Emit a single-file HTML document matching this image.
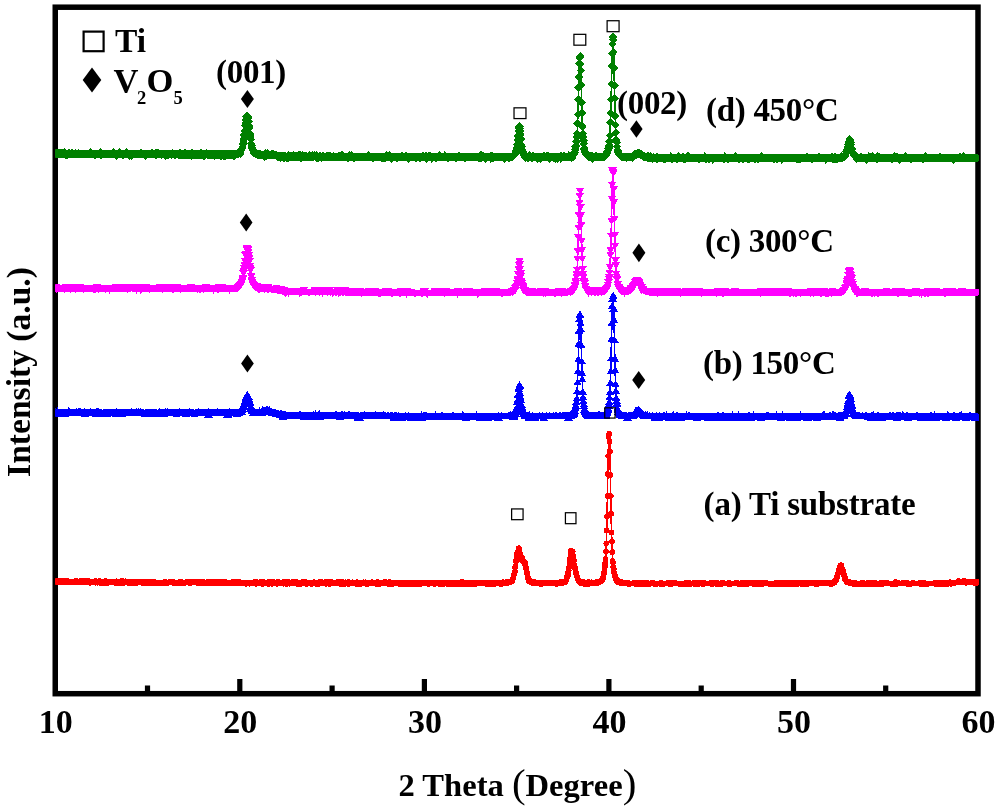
<!DOCTYPE html>
<html><head><meta charset="utf-8"><style>
html,body{margin:0;padding:0;background:#fff;}
svg{display:block;}
text{font-family:"Liberation Serif","Times New Roman",serif;font-weight:bold;fill:#000;}
</style></head><body>
<svg width="1000" height="811" viewBox="0 0 1000 811">

<defs>
<clipPath id="plotclip"><rect x="55.2" y="8" width="923.8" height="684"/></clipPath>
<marker shape-rendering="crispEdges" id="mg" markerUnits="userSpaceOnUse" markerWidth="10" markerHeight="10" refX="5" refY="5" overflow="visible"><path d="M0.8 5L5 0.7L9.2 5L5 9.3Z" fill="#008000"/></marker>
<marker shape-rendering="crispEdges" id="mm" markerUnits="userSpaceOnUse" markerWidth="10" markerHeight="10" refX="5" refY="5" overflow="visible"><path d="M0.75 1.5L9.25 1.5L5 8.5Z" fill="#ff00ff"/></marker>
<marker shape-rendering="crispEdges" id="mb" markerUnits="userSpaceOnUse" markerWidth="10" markerHeight="10" refX="5" refY="5" overflow="visible"><path d="M0.75 8.5L9.25 8.5L5 1.5Z" fill="#0000ff"/></marker>
<marker shape-rendering="crispEdges" id="mr" markerUnits="userSpaceOnUse" markerWidth="10" markerHeight="10" refX="5" refY="5" overflow="visible"><circle cx="5" cy="5" r="2.9" fill="#ff0000"/></marker>
</defs>

<rect width="1000" height="811" fill="#fff"/>
<rect x="55.25" y="7.2" width="922.75" height="686.5" fill="none" stroke="#000" stroke-width="5.5"/>
<g clip-path="url(#plotclip)" shape-rendering="crispEdges">
<path d="M55.2 153.6 55.6 153.6 56.0 153.6 56.4 153.6 56.7 153.6 57.1 153.6 57.5 153.6 57.8 153.6 58.2 153.6 58.6 153.6 58.9 153.6 59.3 153.6 59.7 153.6 60.0 153.6 60.4 153.6 60.8 153.6 61.2 153.6 61.5 153.6 61.9 153.6 62.3 153.6 62.6 153.6 63.0 153.6 63.4 153.7 63.7 153.7 64.1 152.3 64.5 152.3 64.8 153.7 65.2 153.7 65.6 153.7 66.0 153.7 66.3 155.1 66.7 153.7 67.1 153.7 67.4 155.1 67.8 153.7 68.2 153.7 68.5 153.7 68.9 153.7 69.3 153.7 69.6 153.7 70.0 153.7 70.4 153.7 70.8 153.7 71.1 153.7 71.5 153.7 71.9 153.7 72.2 153.7 72.6 153.7 73.0 153.7 73.3 153.7 73.7 153.7 74.1 153.7 74.4 153.7 74.8 153.7 75.2 153.7 75.6 153.7 75.9 153.7 76.3 153.7 76.7 153.7 77.0 153.7 77.4 153.7 77.8 153.7 78.1 153.7 78.5 153.7 78.9 153.7 79.2 153.7 79.6 153.8 80.0 153.8 80.3 153.8 80.7 153.8 81.1 153.8 81.5 153.8 81.8 153.8 82.2 153.8 82.6 153.8 82.9 153.8 83.3 153.8 83.7 153.8 84.0 153.8 84.4 153.8 84.8 153.8 85.1 153.8 85.5 153.8 85.9 153.8 86.3 153.8 86.6 153.8 87.0 153.8 87.4 153.8 87.7 153.8 88.1 153.8 88.5 153.8 88.8 153.8 89.2 153.8 89.6 153.8 89.9 153.8 90.3 152.4 90.7 153.8 91.1 153.8 91.4 153.8 91.8 153.8 92.2 153.8 92.5 153.8 92.9 153.8 93.3 153.8 93.6 153.8 94.0 153.8 94.4 153.8 94.7 153.8 95.1 155.2 95.5 153.8 95.9 153.9 96.2 153.9 96.6 153.9 97.0 153.9 97.3 153.9 97.7 153.9 98.1 153.9 98.4 153.9 98.8 153.9 99.2 153.9 99.5 153.9 99.9 153.9 100.3 152.5 100.6 153.9 101.0 155.3 101.4 153.9 101.8 153.9 102.1 153.9 102.5 153.9 102.9 153.9 103.2 153.9 103.6 153.9 104.0 153.9 104.3 153.9 104.7 153.9 105.1 153.9 105.4 153.9 105.8 153.9 106.2 153.9 106.6 153.9 106.9 153.9 107.3 153.9 107.7 153.9 108.0 153.9 108.4 153.9 108.8 153.9 109.1 153.9 109.5 153.9 109.9 153.9 110.2 153.9 110.6 153.9 111.0 153.9 111.4 153.9 111.7 153.9 112.1 154.0 112.5 154.0 112.8 154.0 113.2 154.0 113.6 152.6 113.9 154.0 114.3 154.0 114.7 154.0 115.0 154.0 115.4 154.0 115.8 154.0 116.2 154.0 116.5 155.4 116.9 154.0 117.3 154.0 117.6 154.0 118.0 154.0 118.4 154.0 118.7 154.0 119.1 154.0 119.5 152.6 119.8 154.0 120.2 154.0 120.6 154.0 120.9 154.0 121.3 154.0 121.7 154.0 122.1 154.0 122.4 154.0 122.8 155.4 123.2 154.0 123.5 154.0 123.9 154.0 124.3 154.0 124.6 154.0 125.0 154.0 125.4 154.0 125.7 154.0 126.1 154.0 126.5 152.6 126.9 154.0 127.2 154.0 127.6 154.0 128.0 154.0 128.3 154.1 128.7 154.1 129.1 155.5 129.4 155.5 129.8 154.1 130.2 154.1 130.5 154.1 130.9 154.1 131.3 154.1 131.7 155.5 132.0 154.1 132.4 154.1 132.8 154.1 133.1 154.1 133.5 154.1 133.9 154.1 134.2 154.1 134.6 154.1 135.0 154.1 135.3 154.1 135.7 154.1 136.1 154.1 136.5 154.1 136.8 154.1 137.2 154.1 137.6 154.1 137.9 154.1 138.3 154.1 138.7 154.1 139.0 154.1 139.4 154.1 139.8 154.1 140.1 154.1 140.5 154.1 140.9 154.1 141.3 152.7 141.6 154.1 142.0 154.1 142.4 154.1 142.7 154.1 143.1 154.1 143.5 154.1 143.8 154.1 144.2 154.1 144.6 154.2 144.9 154.2 145.3 155.6 145.7 154.2 146.0 154.2 146.4 154.2 146.8 154.2 147.2 154.2 147.5 154.2 147.9 154.2 148.3 154.2 148.6 154.2 149.0 154.2 149.4 154.2 149.7 154.2 150.1 154.2 150.5 154.2 150.8 154.2 151.2 154.2 151.6 154.2 152.0 152.8 152.3 154.2 152.7 154.2 153.1 154.2 153.4 154.2 153.8 154.2 154.2 154.2 154.5 154.2 154.9 154.2 155.3 154.2 155.6 152.8 156.0 155.6 156.4 154.2 156.8 154.2 157.1 154.2 157.5 154.2 157.9 152.8 158.2 154.2 158.6 154.2 159.0 154.2 159.3 154.2 159.7 154.2 160.1 154.2 160.4 154.2 160.8 154.2 161.2 154.3 161.6 154.3 161.9 154.3 162.3 154.3 162.7 154.3 163.0 154.3 163.4 154.3 163.8 154.3 164.1 154.3 164.5 154.3 164.9 154.3 165.2 155.7 165.6 154.3 166.0 154.3 166.3 154.3 166.7 154.3 167.1 154.3 167.5 154.3 167.8 154.3 168.2 154.3 168.6 154.3 168.9 154.3 169.3 154.3 169.7 154.3 170.0 154.3 170.4 154.3 170.8 154.3 171.1 154.3 171.5 154.3 171.9 154.3 172.3 154.3 172.6 152.9 173.0 154.3 173.4 154.3 173.7 154.3 174.1 154.3 174.5 154.3 174.8 154.3 175.2 154.3 175.6 154.3 175.9 154.3 176.3 154.3 176.7 154.3 177.1 154.3 177.4 154.3 177.8 154.4 178.2 154.4 178.5 154.4 178.9 154.4 179.3 154.4 179.6 154.4 180.0 153.0 180.4 154.4 180.7 154.4 181.1 154.4 181.5 154.4 181.9 154.4 182.2 154.4 182.6 154.4 183.0 154.4 183.3 154.4 183.7 154.4 184.1 154.4 184.4 154.4 184.8 153.0 185.2 154.4 185.5 154.4 185.9 154.4 186.3 154.4 186.6 154.4 187.0 154.4 187.4 154.4 187.8 154.4 188.1 154.4 188.5 154.4 188.9 154.4 189.2 154.4 189.6 154.4 190.0 154.4 190.3 154.4 190.7 154.4 191.1 154.4 191.4 154.4 191.8 155.8 192.2 153.0 192.6 154.4 192.9 154.4 193.3 154.4 193.7 154.4 194.0 154.4 194.4 154.4 194.8 154.4 195.1 154.5 195.5 154.5 195.9 154.5 196.2 154.5 196.6 154.5 197.0 154.5 197.4 154.5 197.7 154.5 198.1 154.5 198.5 154.5 198.8 154.5 199.2 154.5 199.6 154.5 199.9 154.5 200.3 154.5 200.7 154.5 201.0 153.1 201.4 154.5 201.8 154.5 202.2 154.5 202.5 154.5 202.9 154.5 203.3 154.5 203.6 154.5 204.0 155.9 204.4 154.5 204.7 154.5 205.1 154.5 205.5 154.5 205.8 154.5 206.2 154.5 206.6 153.1 207.0 154.5 207.3 154.5 207.7 154.5 208.1 154.5 208.4 154.5 208.8 154.5 209.2 154.5 209.5 154.5 209.9 154.5 210.3 154.5 210.6 154.5 211.0 154.5 211.4 154.5 211.7 154.5 212.1 154.5 212.5 154.5 212.9 154.5 213.2 154.5 213.6 154.5 214.0 154.5 214.3 154.5 214.7 155.9 215.1 154.5 215.4 154.5 215.8 154.5 216.2 154.6 216.5 154.6 216.9 154.6 217.3 154.6 217.7 154.6 218.0 154.6 218.4 154.6 218.8 154.6 219.1 154.6 219.5 154.6 219.9 154.6 220.2 154.6 220.6 154.6 221.0 156.0 221.3 154.6 221.7 154.6 222.1 154.6 222.5 154.6 222.8 154.6 223.2 154.6 223.6 154.6 223.9 156.0 224.3 154.6 224.7 154.6 225.0 156.0 225.4 154.6 225.8 154.6 226.1 154.6 226.5 154.6 226.9 154.6 227.3 154.6 227.6 154.6 228.0 154.6 228.4 154.6 228.7 154.6 229.1 154.6 229.5 154.6 229.8 154.6 230.2 154.6 230.6 154.6 230.9 154.6 231.3 154.5 231.7 154.5 232.0 154.5 232.4 154.5 232.8 154.5 233.2 154.5 233.5 154.5 233.9 155.9 234.3 154.5 234.6 154.4 235.0 154.4 235.4 154.4 235.7 154.3 236.1 154.3 236.5 154.2 236.8 154.2 237.2 154.1 237.6 154.0 238.0 153.8 238.3 153.7 238.7 152.1 239.1 153.3 239.4 153.0 239.8 152.7 240.2 153.7 240.5 151.7 240.9 150.8 241.3 149.9 241.6 149.9 242.0 148.4 242.4 147.1 242.8 144.5 243.1 143.2 243.5 140.9 243.9 138.7 244.2 135.0 244.6 131.2 245.0 131.1 245.3 125.3 245.7 122.8 246.1 119.9 246.4 116.3 246.8 115.6 247.2 117.4 247.6 116.3 247.9 121.6 248.3 118.3 248.7 121.6 249.0 125.3 249.4 127.4 249.8 133.8 250.1 134.8 250.5 137.3 250.9 139.5 251.2 143.7 251.6 145.7 252.0 147.8 252.3 148.5 252.7 149.9 253.1 150.6 253.5 153.1 253.8 151.7 254.2 152.4 254.6 152.8 254.9 153.2 255.3 153.4 255.7 153.7 256.0 153.9 256.4 154.0 256.8 154.1 257.1 154.2 257.5 154.3 257.9 154.4 258.3 154.5 258.6 154.5 259.0 154.6 259.4 154.6 259.7 154.7 260.1 154.7 260.5 154.7 260.8 154.7 261.2 154.8 261.6 154.8 261.9 154.8 262.3 154.8 262.7 154.8 263.1 154.8 263.4 154.8 263.8 154.9 264.2 154.9 264.5 156.3 264.9 154.9 265.3 153.5 265.6 154.9 266.0 156.3 266.4 154.9 266.7 155.0 267.1 155.0 267.5 153.6 267.9 153.6 268.2 155.0 268.6 155.0 269.0 155.0 269.3 155.0 269.7 155.0 270.1 155.0 270.4 155.0 270.8 155.0 271.2 155.1 271.5 155.1 271.9 153.7 272.3 155.1 272.6 155.1 273.0 153.7 273.4 155.1 273.8 155.1 274.1 155.1 274.5 155.1 274.9 155.1 275.2 155.2 275.6 155.2 276.0 155.3 276.3 155.4 276.7 155.4 277.1 155.5 277.4 156.9 277.8 155.6 278.2 155.6 278.6 157.1 278.9 155.8 279.3 155.8 279.7 155.9 280.0 155.9 280.4 157.4 280.8 156.1 281.1 156.1 281.5 156.2 281.9 156.2 282.2 156.3 282.6 156.3 283.0 156.4 283.4 156.5 283.7 156.5 284.1 158.0 284.5 156.6 284.8 156.6 285.2 156.6 285.6 156.6 285.9 156.6 286.3 156.6 286.7 158.0 287.0 158.0 287.4 156.6 287.8 156.6 288.2 158.0 288.5 155.2 288.9 156.6 289.3 156.6 289.6 156.6 290.0 156.6 290.4 156.6 290.7 156.6 291.1 156.6 291.5 156.6 291.8 156.6 292.2 156.6 292.6 156.6 293.0 156.6 293.3 156.6 293.7 155.2 294.1 156.6 294.4 156.6 294.8 156.6 295.2 156.6 295.5 156.6 295.9 156.6 296.3 156.6 296.6 156.6 297.0 156.6 297.4 156.6 297.7 156.6 298.1 156.6 298.5 155.2 298.9 156.6 299.2 155.2 299.6 156.6 300.0 156.6 300.3 155.2 300.7 156.6 301.1 158.0 301.4 156.6 301.8 156.6 302.2 156.6 302.5 155.2 302.9 156.6 303.3 156.6 303.7 156.6 304.0 156.6 304.4 156.6 304.8 156.6 305.1 156.6 305.5 156.6 305.9 156.7 306.2 156.7 306.6 156.7 307.0 156.7 307.3 156.7 307.7 156.7 308.1 156.7 308.5 156.7 308.8 156.7 309.2 156.7 309.6 155.3 309.9 156.7 310.3 156.7 310.7 156.7 311.0 156.7 311.4 156.7 311.8 156.7 312.1 156.7 312.5 156.7 312.9 155.3 313.3 156.7 313.6 156.7 314.0 156.7 314.4 155.3 314.7 155.3 315.1 156.7 315.5 156.7 315.8 156.7 316.2 156.7 316.6 155.3 316.9 158.1 317.3 156.7 317.7 158.1 318.0 156.7 318.4 156.7 318.8 156.7 319.2 156.7 319.5 156.7 319.9 156.7 320.3 156.7 320.6 156.7 321.0 156.7 321.4 158.1 321.7 156.7 322.1 156.7 322.5 156.7 322.8 156.7 323.2 156.7 323.6 156.7 324.0 156.7 324.3 156.7 324.7 156.7 325.1 156.7 325.4 156.7 325.8 156.7 326.2 156.7 326.5 156.7 326.9 156.7 327.3 156.7 327.6 156.7 328.0 155.3 328.4 156.7 328.8 156.7 329.1 156.7 329.5 156.7 329.9 156.7 330.2 156.7 330.6 156.7 331.0 156.7 331.3 156.7 331.7 156.7 332.1 156.7 332.4 156.7 332.8 156.7 333.2 156.7 333.6 156.7 333.9 156.7 334.3 156.7 334.7 156.7 335.0 156.7 335.4 156.7 335.8 156.7 336.1 156.7 336.5 156.8 336.9 156.8 337.2 156.8 337.6 156.8 338.0 156.8 338.3 156.8 338.7 156.8 339.1 155.4 339.5 156.8 339.8 156.8 340.2 156.8 340.6 156.8 340.9 156.8 341.3 155.4 341.7 156.8 342.0 155.4 342.4 156.8 342.8 155.4 343.1 156.8 343.5 156.8 343.9 156.8 344.3 156.8 344.6 156.8 345.0 156.8 345.4 156.8 345.7 156.8 346.1 156.8 346.5 156.8 346.8 156.8 347.2 156.8 347.6 156.8 347.9 156.8 348.3 158.2 348.7 156.8 349.1 156.8 349.4 155.4 349.8 156.8 350.2 156.8 350.5 156.8 350.9 156.8 351.3 155.4 351.6 155.4 352.0 156.8 352.4 156.8 352.7 156.8 353.1 156.8 353.5 156.8 353.9 158.2 354.2 156.8 354.6 156.8 355.0 156.8 355.3 156.8 355.7 156.8 356.1 156.8 356.4 156.8 356.8 156.8 357.2 156.8 357.5 156.8 357.9 156.8 358.3 156.8 358.7 156.8 359.0 156.8 359.4 156.8 359.8 156.8 360.1 156.8 360.5 156.8 360.9 156.8 361.2 156.8 361.6 156.8 362.0 156.8 362.3 156.8 362.7 156.8 363.1 156.8 363.4 156.8 363.8 156.8 364.2 156.8 364.6 156.8 364.9 156.8 365.3 156.8 365.7 156.8 366.0 156.8 366.4 156.8 366.8 156.8 367.1 156.8 367.5 156.8 367.9 156.8 368.2 156.8 368.6 155.4 369.0 156.9 369.4 156.9 369.7 156.9 370.1 156.9 370.5 156.9 370.8 156.9 371.2 156.9 371.6 156.9 371.9 156.9 372.3 156.9 372.7 158.3 373.0 156.9 373.4 156.9 373.8 156.9 374.2 156.9 374.5 156.9 374.9 156.9 375.3 156.9 375.6 156.9 376.0 156.9 376.4 156.9 376.7 156.9 377.1 156.9 377.5 156.9 377.8 156.9 378.2 156.9 378.6 156.9 379.0 156.9 379.3 156.9 379.7 156.9 380.1 156.9 380.4 156.9 380.8 156.9 381.2 156.9 381.5 156.9 381.9 158.3 382.3 156.9 382.6 156.9 383.0 156.9 383.4 158.3 383.7 156.9 384.1 156.9 384.5 156.9 384.9 156.9 385.2 158.3 385.6 156.9 386.0 156.9 386.3 155.5 386.7 156.9 387.1 156.9 387.4 156.9 387.8 156.9 388.2 156.9 388.5 156.9 388.9 156.9 389.3 155.5 389.7 156.9 390.0 156.9 390.4 156.9 390.8 156.9 391.1 156.9 391.5 158.3 391.9 156.9 392.2 156.9 392.6 156.9 393.0 156.9 393.3 156.9 393.7 156.9 394.1 156.9 394.5 156.9 394.8 156.9 395.2 156.9 395.6 156.9 395.9 156.9 396.3 156.9 396.7 158.3 397.0 156.9 397.4 156.9 397.8 156.9 398.1 156.9 398.5 156.9 398.9 156.9 399.3 156.9 399.6 156.9 400.0 156.9 400.4 156.9 400.7 156.9 401.1 156.9 401.5 156.9 401.8 155.6 402.2 157.0 402.6 157.0 402.9 157.0 403.3 157.0 403.7 157.0 404.0 157.0 404.4 157.0 404.8 157.0 405.2 157.0 405.5 157.0 405.9 155.6 406.3 157.0 406.6 157.0 407.0 157.0 407.4 157.0 407.7 157.0 408.1 157.0 408.5 158.4 408.8 157.0 409.2 157.0 409.6 157.0 410.0 157.0 410.3 157.0 410.7 157.0 411.1 157.0 411.4 157.0 411.8 157.0 412.2 157.0 412.5 157.0 412.9 157.0 413.3 157.0 413.6 157.0 414.0 157.0 414.4 157.0 414.8 157.0 415.1 157.0 415.5 157.0 415.9 157.0 416.2 158.4 416.6 157.0 417.0 157.0 417.3 157.0 417.7 157.0 418.1 157.0 418.4 157.0 418.8 157.0 419.2 157.0 419.6 157.0 419.9 157.0 420.3 158.4 420.7 157.0 421.0 157.0 421.4 157.0 421.8 157.0 422.1 157.0 422.5 157.0 422.9 155.6 423.2 157.0 423.6 157.0 424.0 157.0 424.3 157.0 424.7 157.0 425.1 157.0 425.5 157.0 425.8 155.6 426.2 157.0 426.6 158.4 426.9 157.0 427.3 157.0 427.7 157.0 428.0 157.0 428.4 157.0 428.8 157.0 429.1 155.6 429.5 157.0 429.9 155.6 430.3 157.0 430.6 157.0 431.0 157.0 431.4 157.0 431.7 158.4 432.1 157.0 432.5 157.0 432.8 157.0 433.2 157.0 433.6 157.0 433.9 157.0 434.3 157.0 434.7 157.0 435.1 157.0 435.4 157.0 435.8 157.0 436.2 158.4 436.5 157.0 436.9 157.0 437.3 157.0 437.6 157.0 438.0 157.0 438.4 157.0 438.7 157.0 439.1 157.0 439.5 155.6 439.9 157.0 440.2 155.6 440.6 157.0 441.0 157.0 441.3 157.0 441.7 157.0 442.1 157.0 442.4 157.0 442.8 157.0 443.2 157.0 443.5 157.0 443.9 157.0 444.3 157.0 444.7 155.6 445.0 157.0 445.4 157.0 445.8 157.0 446.1 157.0 446.5 157.0 446.9 157.0 447.2 157.0 447.6 157.0 448.0 157.0 448.3 158.4 448.7 157.0 449.1 157.0 449.4 157.0 449.8 157.0 450.2 157.0 450.6 157.0 450.9 157.0 451.3 157.0 451.7 157.0 452.0 157.0 452.4 157.0 452.8 157.0 453.1 157.0 453.5 157.0 453.9 157.0 454.2 157.0 454.6 157.0 455.0 157.0 455.4 157.0 455.7 157.0 456.1 158.4 456.5 157.0 456.8 157.0 457.2 157.0 457.6 157.0 457.9 157.0 458.3 157.0 458.7 157.0 459.0 155.6 459.4 157.0 459.8 157.0 460.2 157.0 460.5 157.0 460.9 157.0 461.3 157.0 461.6 157.0 462.0 157.0 462.4 157.0 462.7 157.0 463.1 157.0 463.5 157.0 463.8 157.0 464.2 157.0 464.6 157.0 465.0 158.4 465.3 157.0 465.7 157.0 466.1 157.0 466.4 157.0 466.8 157.0 467.2 157.0 467.5 157.0 467.9 157.0 468.3 157.0 468.6 157.0 469.0 157.0 469.4 157.0 469.7 157.0 470.1 157.0 470.5 157.0 470.9 157.0 471.2 157.0 471.6 157.0 472.0 157.0 472.3 157.1 472.7 157.1 473.1 157.1 473.4 157.1 473.8 157.1 474.2 157.1 474.5 157.1 474.9 157.1 475.3 157.1 475.7 157.1 476.0 157.1 476.4 157.1 476.8 157.1 477.1 157.1 477.5 157.1 477.9 157.1 478.2 157.1 478.6 157.1 479.0 158.5 479.3 157.1 479.7 157.1 480.1 157.1 480.5 155.7 480.8 157.1 481.2 158.5 481.6 155.7 481.9 157.1 482.3 157.1 482.7 157.1 483.0 155.7 483.4 157.1 483.8 157.1 484.1 157.1 484.5 157.1 484.9 157.1 485.3 158.5 485.6 157.1 486.0 157.1 486.4 157.1 486.7 157.1 487.1 157.1 487.5 157.1 487.8 157.1 488.2 157.1 488.6 157.1 488.9 157.1 489.3 157.1 489.7 157.1 490.0 157.1 490.4 157.1 490.8 158.5 491.2 155.7 491.5 157.1 491.9 155.7 492.3 157.1 492.6 157.1 493.0 158.5 493.4 157.1 493.7 157.1 494.1 157.1 494.5 157.1 494.8 157.1 495.2 157.1 495.6 157.1 496.0 157.1 496.3 157.1 496.7 157.0 497.1 157.0 497.4 157.0 497.8 157.0 498.2 157.0 498.5 157.0 498.9 157.0 499.3 157.0 499.6 157.0 500.0 157.0 500.4 157.0 500.8 157.0 501.1 157.0 501.5 157.0 501.9 157.0 502.2 157.0 502.6 157.0 503.0 157.0 503.3 157.0 503.7 157.0 504.1 157.0 504.4 158.4 504.8 157.0 505.2 157.0 505.6 157.0 505.9 157.0 506.3 157.0 506.7 157.0 507.0 157.0 507.4 157.0 507.8 157.0 508.1 157.0 508.5 157.0 508.9 158.4 509.2 158.4 509.6 157.0 510.0 156.9 510.4 156.9 510.7 156.9 511.1 156.8 511.5 156.8 511.8 156.7 512.2 156.6 512.6 156.5 512.9 156.3 513.3 156.1 513.7 155.8 514.0 155.5 514.4 155.1 514.8 154.6 515.1 153.6 515.5 153.3 515.9 151.2 516.3 151.1 516.6 149.2 517.0 147.8 517.4 144.6 517.7 140.1 518.1 136.0 518.5 131.2 518.8 128.2 519.2 126.1 519.6 128.7 519.9 126.5 520.3 131.1 520.7 134.9 521.1 139.2 521.4 145.4 521.8 146.9 522.2 149.8 522.5 150.3 522.9 152.0 523.3 153.5 523.6 154.2 524.0 154.6 524.4 155.1 524.7 155.5 525.1 155.9 525.5 157.6 525.9 156.4 526.2 156.6 526.6 156.7 527.0 156.8 527.3 156.9 527.7 158.3 528.1 157.0 528.4 157.0 528.8 157.0 529.2 157.0 529.5 155.7 529.9 157.1 530.3 157.1 530.7 157.1 531.0 157.1 531.4 157.1 531.8 157.1 532.1 158.5 532.5 157.1 532.9 157.1 533.2 155.7 533.6 157.1 534.0 157.2 534.3 157.2 534.7 157.2 535.1 157.2 535.4 157.2 535.8 157.2 536.2 157.2 536.6 157.2 536.9 157.2 537.3 158.6 537.7 157.2 538.0 157.2 538.4 157.2 538.8 157.2 539.1 157.2 539.5 157.2 539.9 157.2 540.2 157.2 540.6 158.6 541.0 157.2 541.4 157.2 541.7 157.2 542.1 157.2 542.5 157.2 542.8 157.2 543.2 157.2 543.6 155.8 543.9 157.2 544.3 157.2 544.7 157.2 545.0 157.2 545.4 157.2 545.8 157.2 546.2 157.2 546.5 157.2 546.9 155.8 547.3 157.2 547.6 157.2 548.0 155.8 548.4 157.3 548.7 157.3 549.1 157.3 549.5 157.3 549.8 158.7 550.2 157.3 550.6 157.3 551.0 157.3 551.3 157.3 551.7 157.3 552.1 157.3 552.4 157.3 552.8 157.3 553.2 157.3 553.5 157.3 553.9 157.3 554.3 157.3 554.6 157.3 555.0 157.3 555.4 158.7 555.7 157.3 556.1 157.3 556.5 157.3 556.9 157.2 557.2 157.2 557.6 158.6 558.0 157.2 558.3 157.2 558.7 157.2 559.1 157.2 559.4 157.2 559.8 157.2 560.2 157.2 560.5 157.2 560.9 158.6 561.3 155.8 561.7 157.2 562.0 157.2 562.4 157.2 562.8 157.2 563.1 157.2 563.5 157.2 563.9 157.2 564.2 155.8 564.6 157.2 565.0 157.2 565.3 157.1 565.7 157.1 566.1 157.1 566.5 157.1 566.8 157.1 567.2 157.1 567.6 157.1 567.9 157.0 568.3 157.0 568.7 155.6 569.0 157.0 569.4 156.9 569.8 156.9 570.1 156.8 570.5 156.8 570.9 156.7 571.3 158.0 571.6 156.4 572.0 156.2 572.4 156.0 572.7 157.1 573.1 153.9 573.5 154.8 573.8 154.6 574.2 153.1 574.6 152.7 574.9 152.5 575.3 149.5 575.7 146.5 576.1 146.3 576.4 141.5 576.8 137.4 577.2 133.8 577.5 123.6 577.9 114.6 578.3 99.3 578.6 87.6 579.0 77.0 579.4 63.7 579.7 57.8 580.1 56.3 580.5 63.8 580.8 70.5 581.2 84.6 581.6 102.6 582.0 112.8 582.3 126.5 582.7 133.7 583.1 137.1 583.4 140.5 583.8 143.6 584.2 148.2 584.5 149.7 584.9 152.0 585.3 152.6 585.6 152.7 586.0 154.5 586.4 154.8 586.8 155.3 587.1 154.3 587.5 156.0 587.9 156.3 588.2 156.4 588.6 156.6 589.0 156.7 589.3 156.8 589.7 156.8 590.1 156.9 590.4 156.9 590.8 155.6 591.2 157.0 591.6 157.0 591.9 155.6 592.3 157.1 592.7 158.5 593.0 157.1 593.4 157.1 593.8 157.1 594.1 157.1 594.5 157.1 594.9 157.1 595.2 157.1 595.6 157.2 596.0 157.2 596.4 155.8 596.7 157.2 597.1 157.2 597.5 157.2 597.8 157.1 598.2 157.1 598.6 157.1 598.9 157.1 599.3 157.1 599.7 157.1 600.0 157.1 600.4 157.1 600.8 157.1 601.1 157.0 601.5 157.0 601.9 157.0 602.3 157.0 602.6 156.9 603.0 156.9 603.4 156.8 603.7 156.7 604.1 156.6 604.5 156.5 604.8 156.3 605.2 156.1 605.6 155.8 605.9 155.4 606.3 154.9 606.7 152.3 607.1 153.2 607.4 153.3 607.8 150.8 608.2 148.7 608.5 148.4 608.9 147.1 609.3 145.3 609.6 141.5 610.0 135.6 610.4 122.2 610.7 113.2 611.1 99.2 611.5 84.1 611.9 66.0 612.2 53.6 612.6 44.0 613.0 37.0 613.3 39.9 613.7 52.0 614.1 67.8 614.4 85.5 614.8 98.3 615.2 116.3 615.5 124.9 615.9 132.8 616.3 139.6 616.7 142.3 617.0 146.7 617.4 149.9 617.8 150.3 618.1 151.6 618.5 152.3 618.9 154.3 619.2 154.9 619.6 155.0 620.0 155.5 620.3 155.9 620.7 156.2 621.1 156.4 621.4 156.6 621.8 156.7 622.2 156.9 622.6 156.9 622.9 157.0 623.3 157.1 623.7 157.1 624.0 157.1 624.4 157.2 624.8 157.2 625.1 157.2 625.5 157.2 625.9 157.3 626.2 157.3 626.6 157.3 627.0 157.3 627.4 157.3 627.7 157.3 628.1 157.3 628.5 157.2 628.8 157.2 629.2 157.2 629.6 157.1 629.9 157.1 630.3 157.0 630.7 156.9 631.0 156.8 631.4 156.7 631.8 156.6 632.2 156.4 632.5 157.7 632.9 156.1 633.3 155.9 633.6 155.7 634.0 155.5 634.4 155.3 634.7 155.1 635.1 153.5 635.5 155.2 635.8 154.5 636.2 153.8 636.6 154.7 637.0 153.9 637.3 154.3 637.7 153.4 638.1 154.2 638.4 153.5 638.8 154.2 639.2 154.2 639.5 153.3 639.9 154.2 640.3 154.4 640.6 154.3 641.0 153.7 641.4 154.8 641.7 154.9 642.1 155.2 642.5 155.4 642.9 155.6 643.2 155.8 643.6 156.0 644.0 157.6 644.3 156.4 644.7 156.6 645.1 156.7 645.4 156.9 645.8 157.0 646.2 157.1 646.5 157.2 646.9 157.3 647.3 157.4 647.7 157.4 648.0 156.1 648.4 157.5 648.8 157.6 649.1 157.6 649.5 157.6 649.9 157.6 650.2 157.7 650.6 156.3 651.0 156.3 651.3 157.7 651.7 157.7 652.1 157.7 652.5 159.1 652.8 157.7 653.2 157.7 653.6 157.7 653.9 157.7 654.3 157.7 654.7 157.7 655.0 157.7 655.4 157.7 655.8 157.7 656.1 157.7 656.5 157.7 656.9 157.7 657.3 159.1 657.6 157.7 658.0 157.7 658.4 157.8 658.7 157.8 659.1 157.8 659.5 157.8 659.8 157.8 660.2 157.8 660.6 157.8 660.9 157.8 661.3 157.8 661.7 157.8 662.1 157.8 662.4 157.8 662.8 157.8 663.2 157.8 663.5 157.8 663.9 159.2 664.3 157.8 664.6 159.2 665.0 157.8 665.4 157.8 665.7 157.8 666.1 157.8 666.5 157.8 666.8 157.8 667.2 157.8 667.6 157.8 668.0 157.8 668.3 157.8 668.7 157.8 669.1 157.8 669.4 157.8 669.8 157.8 670.2 157.8 670.5 157.8 670.9 156.4 671.3 157.8 671.6 157.8 672.0 159.2 672.4 157.8 672.8 157.8 673.1 157.8 673.5 157.8 673.9 157.8 674.2 157.8 674.6 157.8 675.0 157.8 675.3 157.8 675.7 157.8 676.1 157.8 676.4 157.8 676.8 159.2 677.2 157.8 677.6 157.8 677.9 157.8 678.3 157.8 678.7 156.4 679.0 157.8 679.4 157.8 679.8 157.8 680.1 157.8 680.5 157.8 680.9 157.8 681.2 157.8 681.6 157.8 682.0 157.8 682.4 157.8 682.7 157.8 683.1 156.4 683.5 157.8 683.8 157.8 684.2 159.2 684.6 159.2 684.9 157.8 685.3 157.8 685.7 157.8 686.0 157.8 686.4 157.8 686.8 157.8 687.1 157.8 687.5 156.4 687.9 157.8 688.3 157.8 688.6 156.4 689.0 157.8 689.4 157.8 689.7 157.8 690.1 157.8 690.5 157.8 690.8 157.8 691.2 157.8 691.6 157.8 691.9 157.8 692.3 157.8 692.7 157.8 693.1 157.8 693.4 157.8 693.8 157.8 694.2 157.8 694.5 157.8 694.9 157.8 695.3 157.8 695.6 157.8 696.0 157.8 696.4 157.8 696.7 157.8 697.1 157.8 697.5 157.8 697.9 157.8 698.2 157.8 698.6 157.8 699.0 159.2 699.3 157.8 699.7 157.8 700.1 157.8 700.4 157.8 700.8 157.8 701.2 157.8 701.5 157.8 701.9 157.8 702.3 157.8 702.7 157.8 703.0 157.8 703.4 157.8 703.8 157.8 704.1 157.8 704.5 157.8 704.9 156.4 705.2 157.8 705.6 157.8 706.0 159.2 706.3 157.8 706.7 157.8 707.1 157.8 707.4 157.8 707.8 157.8 708.2 157.8 708.6 157.8 708.9 159.2 709.3 157.8 709.7 157.8 710.0 157.8 710.4 157.8 710.8 157.8 711.1 157.9 711.5 157.9 711.9 157.9 712.2 157.9 712.6 159.3 713.0 157.9 713.4 157.9 713.7 157.9 714.1 157.9 714.5 157.9 714.8 157.9 715.2 157.9 715.6 157.9 715.9 157.9 716.3 157.9 716.7 157.9 717.0 157.9 717.4 157.9 717.8 157.9 718.2 157.9 718.5 157.9 718.9 157.9 719.3 157.9 719.6 157.9 720.0 157.9 720.4 157.9 720.7 157.9 721.1 157.9 721.5 157.9 721.8 157.9 722.2 157.9 722.6 157.9 723.0 157.9 723.3 157.9 723.7 157.9 724.1 159.3 724.4 157.9 724.8 156.5 725.2 157.9 725.5 157.9 725.9 157.9 726.3 157.9 726.6 157.9 727.0 157.9 727.4 157.9 727.8 157.9 728.1 159.3 728.5 157.9 728.9 157.9 729.2 157.9 729.6 157.9 730.0 157.9 730.3 157.9 730.7 157.9 731.1 157.9 731.4 157.9 731.8 157.9 732.2 157.9 732.5 157.9 732.9 157.9 733.3 157.9 733.7 157.9 734.0 157.9 734.4 157.9 734.8 157.9 735.1 157.9 735.5 156.5 735.9 157.9 736.2 157.9 736.6 157.9 737.0 157.9 737.3 157.9 737.7 157.9 738.1 157.9 738.5 157.9 738.8 157.9 739.2 159.3 739.6 157.9 739.9 157.9 740.3 157.9 740.7 157.9 741.0 157.9 741.4 157.9 741.8 157.9 742.1 157.9 742.5 157.9 742.9 159.3 743.3 157.9 743.6 157.9 744.0 157.9 744.4 157.9 744.7 157.9 745.1 157.9 745.5 157.9 745.8 157.9 746.2 157.9 746.6 157.9 746.9 157.9 747.3 157.9 747.7 157.9 748.1 159.3 748.4 159.3 748.8 157.9 749.2 159.3 749.5 157.9 749.9 157.9 750.3 157.9 750.6 157.9 751.0 157.9 751.4 157.9 751.7 157.9 752.1 157.9 752.5 157.9 752.8 157.9 753.2 157.9 753.6 157.9 754.0 157.9 754.3 157.9 754.7 157.9 755.1 159.3 755.4 157.9 755.8 157.9 756.2 157.9 756.5 157.9 756.9 157.9 757.3 157.9 757.6 157.9 758.0 159.3 758.4 157.9 758.8 157.9 759.1 157.9 759.5 157.9 759.9 157.9 760.2 157.9 760.6 157.9 761.0 157.9 761.3 157.9 761.7 156.5 762.1 157.9 762.4 157.9 762.8 157.9 763.2 157.9 763.6 157.9 763.9 157.9 764.3 157.9 764.7 157.9 765.0 157.9 765.4 157.9 765.8 157.9 766.1 157.9 766.5 157.9 766.9 157.9 767.2 157.9 767.6 157.9 768.0 157.9 768.4 157.9 768.7 157.9 769.1 157.9 769.5 157.9 769.8 157.9 770.2 157.9 770.6 157.9 770.9 157.9 771.3 157.9 771.7 157.9 772.0 157.9 772.4 157.9 772.8 157.9 773.1 157.9 773.5 157.9 773.9 159.3 774.3 157.9 774.6 157.9 775.0 157.9 775.4 157.9 775.7 157.9 776.1 157.9 776.5 157.9 776.8 157.9 777.2 159.3 777.6 157.9 777.9 157.9 778.3 157.9 778.7 157.9 779.1 157.9 779.4 157.9 779.8 157.9 780.2 157.9 780.5 157.9 780.9 157.9 781.3 157.9 781.6 159.3 782.0 157.9 782.4 157.9 782.7 157.9 783.1 157.9 783.5 157.9 783.9 157.9 784.2 157.9 784.6 157.9 785.0 157.9 785.3 157.9 785.7 157.9 786.1 157.9 786.4 157.9 786.8 157.9 787.2 157.9 787.5 157.9 787.9 157.9 788.3 157.9 788.7 157.9 789.0 157.9 789.4 157.9 789.8 157.9 790.1 157.9 790.5 157.9 790.9 157.9 791.2 157.9 791.6 157.9 792.0 157.9 792.3 157.9 792.7 157.9 793.1 157.9 793.4 157.9 793.8 157.9 794.2 157.9 794.6 157.9 794.9 157.9 795.3 157.9 795.7 157.9 796.0 157.9 796.4 157.9 796.8 159.3 797.1 157.9 797.5 157.9 797.9 159.3 798.2 157.9 798.6 157.9 799.0 157.9 799.4 157.9 799.7 159.3 800.1 157.9 800.5 157.9 800.8 157.9 801.2 157.9 801.6 157.9 801.9 157.9 802.3 157.9 802.7 157.9 803.0 157.9 803.4 157.9 803.8 157.9 804.2 157.9 804.5 157.9 804.9 157.9 805.3 157.9 805.6 157.9 806.0 157.9 806.4 157.9 806.7 157.9 807.1 156.5 807.5 157.9 807.8 157.9 808.2 157.9 808.6 157.9 809.0 157.9 809.3 157.9 809.7 157.9 810.1 157.9 810.4 157.9 810.8 157.9 811.2 157.9 811.5 157.9 811.9 157.9 812.3 159.3 812.6 157.9 813.0 157.9 813.4 157.9 813.8 157.9 814.1 157.9 814.5 157.9 814.9 157.9 815.2 157.9 815.6 157.9 816.0 157.9 816.3 157.9 816.7 157.9 817.1 157.9 817.4 157.9 817.8 157.9 818.2 157.9 818.5 157.9 818.9 156.5 819.3 157.9 819.7 157.9 820.0 157.9 820.4 157.9 820.8 157.9 821.1 157.9 821.5 157.9 821.9 157.9 822.2 157.9 822.6 157.9 823.0 157.9 823.3 157.9 823.7 157.9 824.1 157.9 824.5 157.9 824.8 157.9 825.2 157.9 825.6 159.3 825.9 157.9 826.3 157.9 826.7 157.9 827.0 157.9 827.4 157.9 827.8 157.9 828.1 157.9 828.5 157.9 828.9 157.9 829.3 157.9 829.6 157.9 830.0 157.9 830.4 157.9 830.7 157.9 831.1 157.9 831.5 157.9 831.8 157.9 832.2 156.5 832.6 157.9 832.9 157.9 833.3 159.3 833.7 157.9 834.1 157.9 834.4 157.9 834.8 159.3 835.2 156.5 835.5 157.9 835.9 157.9 836.3 157.9 836.6 157.9 837.0 157.9 837.4 159.3 837.7 157.9 838.1 157.9 838.5 157.9 838.8 157.9 839.2 157.8 839.6 157.8 840.0 157.8 840.3 157.8 840.7 157.8 841.1 156.3 841.4 157.7 841.8 157.6 842.2 157.5 842.5 157.4 842.9 157.3 843.3 157.2 843.6 157.0 844.0 156.8 844.4 156.5 844.8 156.2 845.1 155.7 845.5 155.2 845.9 153.7 846.2 151.8 846.6 153.1 847.0 149.9 847.3 149.1 847.7 148.0 848.1 146.3 848.4 144.6 848.8 142.4 849.2 142.9 849.6 138.9 849.9 141.8 850.3 140.5 850.7 142.4 851.0 144.6 851.4 147.7 851.8 148.8 852.1 148.7 852.5 151.9 852.9 152.5 853.2 153.7 853.6 154.8 854.0 155.2 854.4 155.7 854.7 156.2 855.1 156.5 855.5 155.4 855.8 157.0 856.2 157.2 856.6 157.3 856.9 158.8 857.3 157.5 857.7 157.6 858.0 157.7 858.4 157.7 858.8 157.8 859.1 157.8 859.5 157.8 859.9 157.8 860.3 157.9 860.6 157.9 861.0 156.5 861.4 157.9 861.7 157.9 862.1 157.9 862.5 157.9 862.8 157.9 863.2 157.9 863.6 157.9 863.9 157.9 864.3 157.9 864.7 157.9 865.1 157.9 865.4 157.9 865.8 157.9 866.2 157.9 866.5 159.4 866.9 158.0 867.3 158.0 867.6 158.0 868.0 158.0 868.4 158.0 868.7 156.6 869.1 158.0 869.5 158.0 869.9 158.0 870.2 156.6 870.6 158.0 871.0 156.6 871.3 158.0 871.7 158.0 872.1 156.6 872.4 156.6 872.8 158.0 873.2 158.0 873.5 158.0 873.9 158.0 874.3 158.0 874.7 158.0 875.0 158.0 875.4 158.0 875.8 158.0 876.1 158.0 876.5 158.0 876.9 159.4 877.2 158.0 877.6 156.6 878.0 158.0 878.3 158.0 878.7 158.0 879.1 156.6 879.5 158.0 879.8 158.0 880.2 158.0 880.6 158.0 880.9 158.0 881.3 158.0 881.7 158.0 882.0 158.0 882.4 158.0 882.8 158.0 883.1 158.0 883.5 158.0 883.9 158.0 884.2 158.0 884.6 158.0 885.0 158.0 885.4 158.0 885.7 158.0 886.1 158.0 886.5 158.0 886.8 158.0 887.2 158.0 887.6 158.0 887.9 158.0 888.3 158.0 888.7 158.0 889.0 158.0 889.4 158.0 889.8 158.0 890.2 158.0 890.5 158.0 890.9 158.0 891.3 158.0 891.6 158.0 892.0 159.4 892.4 158.0 892.7 158.0 893.1 158.0 893.5 158.0 893.8 158.0 894.2 158.0 894.6 156.6 895.0 158.0 895.3 156.6 895.7 158.0 896.1 158.0 896.4 158.0 896.8 156.6 897.2 158.0 897.5 158.0 897.9 158.0 898.3 158.0 898.6 158.0 899.0 158.0 899.4 159.4 899.8 158.0 900.1 158.0 900.5 158.0 900.9 158.0 901.2 158.0 901.6 158.0 902.0 158.0 902.3 158.0 902.7 158.0 903.1 158.0 903.4 158.0 903.8 158.0 904.2 158.0 904.5 158.0 904.9 158.0 905.3 156.6 905.7 156.6 906.0 158.0 906.4 158.0 906.8 158.0 907.1 158.0 907.5 158.0 907.9 158.0 908.2 158.0 908.6 158.0 909.0 158.0 909.3 158.0 909.7 158.0 910.1 158.0 910.5 158.0 910.8 158.0 911.2 159.4 911.6 158.0 911.9 158.0 912.3 158.0 912.7 158.0 913.0 158.0 913.4 158.0 913.8 158.0 914.1 158.0 914.5 158.0 914.9 158.0 915.3 158.0 915.6 158.0 916.0 158.0 916.4 158.0 916.7 158.0 917.1 158.0 917.5 158.0 917.8 158.0 918.2 158.0 918.6 158.0 918.9 158.0 919.3 158.0 919.7 158.0 920.1 158.0 920.4 158.0 920.8 158.0 921.2 158.0 921.5 158.0 921.9 158.0 922.3 158.0 922.6 158.0 923.0 159.4 923.4 158.0 923.7 158.0 924.1 158.0 924.5 158.0 924.8 158.0 925.2 158.0 925.6 156.6 926.0 158.0 926.3 158.1 926.7 158.1 927.1 158.1 927.4 158.1 927.8 158.1 928.2 158.1 928.5 158.1 928.9 158.1 929.3 158.1 929.6 158.1 930.0 158.1 930.4 158.1 930.8 158.1 931.1 158.1 931.5 158.1 931.9 158.1 932.2 158.1 932.6 158.1 933.0 158.1 933.3 158.1 933.7 158.1 934.1 158.1 934.4 158.1 934.8 158.1 935.2 158.1 935.6 158.1 935.9 158.1 936.3 158.1 936.7 158.1 937.0 158.1 937.4 158.1 937.8 158.1 938.1 158.1 938.5 158.1 938.9 158.1 939.2 158.1 939.6 158.1 940.0 158.1 940.4 156.7 940.7 158.1 941.1 158.1 941.5 158.1 941.8 158.1 942.2 158.1 942.6 158.1 942.9 158.1 943.3 158.1 943.7 158.1 944.0 158.1 944.4 158.1 944.8 158.1 945.2 158.1 945.5 158.1 945.9 158.1 946.3 158.1 946.6 158.1 947.0 158.1 947.4 158.1 947.7 158.1 948.1 158.1 948.5 158.1 948.8 158.1 949.2 158.1 949.6 158.1 949.9 158.1 950.3 158.1 950.7 158.1 951.1 158.1 951.4 158.1 951.8 158.1 952.2 158.1 952.5 158.1 952.9 158.1 953.3 159.5 953.6 158.1 954.0 158.1 954.4 158.1 954.7 158.1 955.1 158.1 955.5 158.1 955.9 158.1 956.2 158.1 956.6 158.1 957.0 158.1 957.3 158.1 957.7 158.1 958.1 158.1 958.4 158.1 958.8 158.1 959.2 158.1 959.5 158.1 959.9 158.1 960.3 156.7 960.7 158.1 961.0 158.1 961.4 158.1 961.8 158.1 962.1 158.1 962.5 158.1 962.9 156.7 963.2 158.1 963.6 156.7 964.0 158.1 964.3 158.1 964.7 158.1 965.1 158.1 965.5 158.1 965.8 158.1 966.2 158.1 966.6 158.1 966.9 158.1 967.3 158.1 967.7 158.1 968.0 158.1 968.4 158.1 968.8 158.1 969.1 158.1 969.5 158.1 969.9 158.1 970.2 158.1 970.6 158.1 971.0 158.1 971.4 158.1 971.7 158.1 972.1 158.1 972.5 158.1 972.8 158.1 973.2 158.1 973.6 158.1 973.9 158.1 974.3 158.1 974.7 158.1 975.0 158.1 975.4 158.1 975.8 158.1 976.2 158.1 976.5 158.1 976.9 158.1 977.3 158.1 977.6 158.1 978.0 158.1" stroke="#008000" stroke-width="1.6" fill="none" marker-mid="url(#mg)"/>
<path d="M55.2 288.6 55.6 288.6 56.0 288.6 56.4 287.2 56.7 290.0 57.1 288.6 57.5 288.6 57.8 288.6 58.2 288.6 58.6 288.6 58.9 288.6 59.3 288.6 59.7 288.6 60.0 288.6 60.4 288.6 60.8 288.6 61.2 288.6 61.5 288.6 61.9 288.6 62.3 288.6 62.6 288.6 63.0 288.6 63.4 288.6 63.7 288.6 64.1 288.6 64.5 288.6 64.8 290.0 65.2 288.6 65.6 287.2 66.0 288.6 66.3 288.6 66.7 288.6 67.1 288.6 67.4 288.6 67.8 288.6 68.2 288.6 68.5 288.6 68.9 288.6 69.3 288.6 69.6 288.6 70.0 288.6 70.4 290.0 70.8 288.6 71.1 288.6 71.5 288.6 71.9 288.6 72.2 288.6 72.6 288.6 73.0 287.2 73.3 288.6 73.7 288.6 74.1 288.6 74.4 288.6 74.8 288.6 75.2 288.6 75.6 288.6 75.9 290.0 76.3 288.6 76.7 288.6 77.0 288.6 77.4 288.6 77.8 288.6 78.1 288.6 78.5 288.6 78.9 288.6 79.2 288.6 79.6 288.6 80.0 287.2 80.3 288.6 80.7 288.6 81.1 288.6 81.5 288.6 81.8 288.6 82.2 288.6 82.6 288.6 82.9 288.6 83.3 288.6 83.7 290.0 84.0 288.6 84.4 288.6 84.8 288.6 85.1 288.6 85.5 288.6 85.9 288.6 86.3 288.6 86.6 288.6 87.0 288.6 87.4 288.6 87.7 288.6 88.1 288.6 88.5 288.6 88.8 288.6 89.2 288.6 89.6 288.6 89.9 288.6 90.3 288.6 90.7 288.6 91.1 288.6 91.4 288.6 91.8 288.6 92.2 288.6 92.5 288.6 92.9 288.6 93.3 288.6 93.6 288.6 94.0 290.0 94.4 288.6 94.7 288.6 95.1 290.0 95.5 288.6 95.9 288.6 96.2 288.6 96.6 288.6 97.0 287.2 97.3 288.6 97.7 288.7 98.1 288.7 98.4 290.1 98.8 288.7 99.2 288.7 99.5 288.7 99.9 288.7 100.3 288.7 100.6 288.7 101.0 288.7 101.4 288.7 101.8 288.7 102.1 288.7 102.5 288.7 102.9 288.7 103.2 288.7 103.6 288.7 104.0 288.7 104.3 288.7 104.7 288.7 105.1 288.7 105.4 290.1 105.8 288.7 106.2 288.7 106.6 288.7 106.9 288.7 107.3 288.7 107.7 288.7 108.0 288.7 108.4 288.7 108.8 288.7 109.1 288.7 109.5 290.1 109.9 288.7 110.2 288.7 110.6 288.7 111.0 288.7 111.4 288.7 111.7 288.7 112.1 288.7 112.5 288.7 112.8 288.7 113.2 288.7 113.6 288.7 113.9 288.7 114.3 288.7 114.7 288.7 115.0 288.7 115.4 287.3 115.8 288.7 116.2 288.7 116.5 288.7 116.9 288.7 117.3 288.7 117.6 288.7 118.0 288.7 118.4 288.7 118.7 288.7 119.1 288.7 119.5 288.7 119.8 288.7 120.2 287.3 120.6 288.7 120.9 288.7 121.3 288.7 121.7 288.7 122.1 288.7 122.4 288.7 122.8 288.7 123.2 288.7 123.5 288.7 123.9 288.7 124.3 288.7 124.6 288.7 125.0 287.3 125.4 288.7 125.7 288.7 126.1 288.7 126.5 288.7 126.9 288.7 127.2 290.1 127.6 288.7 128.0 288.7 128.3 288.7 128.7 287.3 129.1 288.7 129.4 288.7 129.8 288.7 130.2 288.7 130.5 288.7 130.9 288.7 131.3 287.3 131.7 287.3 132.0 288.7 132.4 288.7 132.8 288.7 133.1 288.7 133.5 288.7 133.9 288.7 134.2 288.7 134.6 288.7 135.0 288.7 135.3 288.7 135.7 288.7 136.1 288.7 136.5 290.1 136.8 288.7 137.2 288.7 137.6 287.3 137.9 288.7 138.3 288.7 138.7 288.7 139.0 287.3 139.4 288.7 139.8 288.7 140.1 288.7 140.5 290.1 140.9 290.1 141.3 288.7 141.6 288.7 142.0 288.7 142.4 287.3 142.7 288.7 143.1 288.7 143.5 288.7 143.8 288.7 144.2 288.7 144.6 288.7 144.9 288.7 145.3 288.7 145.7 288.7 146.0 288.7 146.4 287.3 146.8 288.7 147.2 288.7 147.5 288.7 147.9 288.7 148.3 288.7 148.6 288.7 149.0 288.7 149.4 288.7 149.7 290.1 150.1 288.7 150.5 288.7 150.8 288.7 151.2 288.7 151.6 288.7 152.0 288.7 152.3 288.7 152.7 288.7 153.1 288.7 153.4 288.7 153.8 288.7 154.2 288.7 154.5 288.7 154.9 288.7 155.3 288.7 155.6 288.7 156.0 288.7 156.4 288.7 156.8 288.7 157.1 288.7 157.5 288.7 157.9 288.7 158.2 288.7 158.6 288.7 159.0 288.7 159.3 288.7 159.7 287.3 160.1 288.7 160.4 288.7 160.8 287.3 161.2 288.7 161.6 288.7 161.9 288.7 162.3 288.7 162.7 290.1 163.0 288.7 163.4 288.7 163.8 288.7 164.1 288.7 164.5 288.7 164.9 287.3 165.2 288.7 165.6 288.7 166.0 288.7 166.3 288.7 166.7 288.7 167.1 288.7 167.5 288.7 167.8 288.7 168.2 288.7 168.6 288.7 168.9 288.7 169.3 288.7 169.7 288.7 170.0 288.7 170.4 288.7 170.8 288.7 171.1 288.7 171.5 288.7 171.9 288.7 172.3 287.3 172.6 288.7 173.0 290.1 173.4 287.3 173.7 288.7 174.1 288.7 174.5 288.7 174.8 288.7 175.2 288.7 175.6 288.7 175.9 288.7 176.3 288.7 176.7 288.7 177.1 288.7 177.4 287.3 177.8 288.7 178.2 288.7 178.5 288.7 178.9 288.7 179.3 288.7 179.6 288.7 180.0 288.7 180.4 288.7 180.7 290.1 181.1 288.7 181.5 288.7 181.9 288.7 182.2 288.7 182.6 288.7 183.0 288.7 183.3 288.7 183.7 288.7 184.1 288.7 184.4 288.7 184.8 288.7 185.2 288.7 185.5 288.7 185.9 288.7 186.3 288.7 186.6 288.7 187.0 288.7 187.4 288.7 187.8 288.7 188.1 288.8 188.5 288.8 188.9 288.8 189.2 288.8 189.6 288.8 190.0 288.8 190.3 288.8 190.7 288.8 191.1 287.4 191.4 287.4 191.8 288.8 192.2 288.8 192.6 288.8 192.9 288.8 193.3 288.8 193.7 288.8 194.0 288.8 194.4 288.8 194.8 288.8 195.1 288.8 195.5 288.8 195.9 288.8 196.2 288.8 196.6 288.8 197.0 288.8 197.4 288.8 197.7 290.2 198.1 288.8 198.5 288.8 198.8 288.8 199.2 288.8 199.6 288.8 199.9 290.2 200.3 288.8 200.7 288.8 201.0 288.8 201.4 288.8 201.8 288.8 202.2 288.8 202.5 288.8 202.9 288.8 203.3 290.2 203.6 288.8 204.0 288.8 204.4 288.8 204.7 288.8 205.1 288.8 205.5 287.4 205.8 288.8 206.2 288.8 206.6 287.4 207.0 288.8 207.3 288.8 207.7 288.8 208.1 288.8 208.4 288.8 208.8 288.8 209.2 288.8 209.5 288.8 209.9 288.8 210.3 288.8 210.6 288.8 211.0 288.8 211.4 288.8 211.7 288.8 212.1 288.8 212.5 288.8 212.9 288.8 213.2 288.8 213.6 290.2 214.0 288.8 214.3 288.8 214.7 288.8 215.1 288.7 215.4 288.7 215.8 288.7 216.2 288.7 216.5 288.8 216.9 288.8 217.3 288.8 217.7 288.8 218.0 290.2 218.4 288.8 218.8 288.8 219.1 287.4 219.5 288.8 219.9 288.8 220.2 288.8 220.6 288.8 221.0 288.8 221.3 288.8 221.7 288.8 222.1 287.4 222.5 288.8 222.8 288.8 223.2 288.8 223.6 288.8 223.9 288.8 224.3 288.8 224.7 288.8 225.0 288.8 225.4 288.8 225.8 288.8 226.1 288.8 226.5 288.8 226.9 288.8 227.3 288.8 227.6 288.8 228.0 288.8 228.4 288.8 228.7 288.8 229.1 288.8 229.5 290.2 229.8 288.8 230.2 288.8 230.6 288.8 230.9 288.7 231.3 288.7 231.7 288.7 232.0 288.7 232.4 288.7 232.8 288.7 233.2 288.7 233.5 288.7 233.9 288.7 234.3 288.6 234.6 288.6 235.0 288.6 235.4 288.6 235.7 288.5 236.1 288.5 236.5 288.4 236.8 288.3 237.2 288.3 237.6 288.2 238.0 288.0 238.3 287.9 238.7 287.7 239.1 286.1 239.4 287.2 239.8 286.9 240.2 286.5 240.5 285.8 240.9 284.7 241.3 284.5 241.6 283.0 242.0 282.2 242.4 280.1 242.8 279.8 243.1 278.8 243.5 273.8 243.9 271.6 244.2 268.5 244.6 265.7 245.0 261.6 245.3 255.5 245.7 256.0 246.1 254.1 246.4 249.1 246.8 249.2 247.2 248.2 247.6 249.9 247.9 250.3 248.3 252.4 248.7 255.7 249.0 258.9 249.4 261.9 249.8 266.7 250.1 268.8 250.5 270.8 250.9 276.0 251.2 277.0 251.6 280.3 252.0 280.1 252.3 282.7 252.7 284.6 253.1 285.3 253.5 285.4 253.8 285.8 254.2 286.6 254.6 287.0 254.9 287.3 255.3 287.6 255.7 287.8 256.0 288.0 256.4 288.2 256.8 286.9 257.1 288.4 257.5 288.5 257.9 288.6 258.3 288.7 258.6 288.7 259.0 290.2 259.4 288.8 259.7 288.8 260.1 288.9 260.5 288.9 260.8 288.9 261.2 288.9 261.6 289.0 261.9 289.0 262.3 289.0 262.7 287.6 263.1 289.0 263.4 289.0 263.8 289.1 264.2 289.1 264.5 289.1 264.9 289.1 265.3 289.1 265.6 289.1 266.0 289.1 266.4 289.1 266.7 289.1 267.1 289.1 267.5 289.2 267.9 289.2 268.2 287.8 268.6 289.2 269.0 289.2 269.3 289.2 269.7 289.2 270.1 289.2 270.4 289.2 270.8 289.2 271.2 289.2 271.5 289.3 271.9 289.3 272.3 289.3 272.6 289.3 273.0 289.3 273.4 289.3 273.8 289.3 274.1 289.3 274.5 289.3 274.9 289.3 275.2 289.3 275.6 289.3 276.0 289.3 276.3 288.0 276.7 289.6 277.1 289.7 277.4 289.8 277.8 289.9 278.2 291.4 278.6 290.1 278.9 290.2 279.3 290.3 279.7 290.5 280.0 290.6 280.4 290.7 280.8 290.8 281.1 289.5 281.5 291.0 281.9 291.1 282.2 291.2 282.6 291.3 283.0 291.5 283.4 291.6 283.7 291.7 284.1 291.8 284.5 290.4 284.8 293.2 285.2 291.8 285.6 293.2 285.9 293.2 286.3 291.8 286.7 291.8 287.0 291.8 287.4 291.8 287.8 291.8 288.2 291.8 288.5 293.2 288.9 291.8 289.3 291.8 289.6 291.8 290.0 291.8 290.4 291.8 290.7 291.8 291.1 291.8 291.5 291.8 291.8 291.8 292.2 291.8 292.6 291.9 293.0 291.9 293.3 291.9 293.7 291.9 294.1 291.9 294.4 291.9 294.8 291.9 295.2 291.9 295.5 291.9 295.9 291.9 296.3 291.9 296.6 291.9 297.0 291.9 297.4 291.9 297.7 291.9 298.1 291.9 298.5 291.9 298.9 291.9 299.2 291.9 299.6 293.3 300.0 291.9 300.3 291.9 300.7 291.9 301.1 293.3 301.4 291.9 301.8 291.9 302.2 291.9 302.5 292.0 302.9 292.0 303.3 292.0 303.7 290.6 304.0 292.0 304.4 292.0 304.8 292.0 305.1 292.0 305.5 292.0 305.9 292.0 306.2 292.0 306.6 292.0 307.0 292.0 307.3 292.0 307.7 292.0 308.1 292.0 308.5 292.0 308.8 293.4 309.2 292.0 309.6 292.0 309.9 292.0 310.3 292.0 310.7 292.0 311.0 292.0 311.4 292.0 311.8 292.0 312.1 292.0 312.5 292.0 312.9 292.0 313.3 292.1 313.6 292.1 314.0 292.1 314.4 292.1 314.7 290.7 315.1 292.1 315.5 292.1 315.8 290.7 316.2 292.1 316.6 292.1 316.9 292.1 317.3 292.1 317.7 292.1 318.0 292.1 318.4 292.1 318.8 292.1 319.2 292.1 319.5 292.1 319.9 292.1 320.3 292.1 320.6 292.1 321.0 292.1 321.4 292.1 321.7 292.1 322.1 292.1 322.5 293.5 322.8 290.7 323.2 292.1 323.6 292.1 324.0 292.2 324.3 292.2 324.7 292.2 325.1 292.2 325.4 292.2 325.8 292.2 326.2 292.2 326.5 290.8 326.9 292.2 327.3 292.2 327.6 292.2 328.0 292.2 328.4 292.2 328.8 290.8 329.1 292.2 329.5 290.8 329.9 292.2 330.2 292.2 330.6 292.2 331.0 292.2 331.3 292.2 331.7 292.2 332.1 292.2 332.4 292.2 332.8 293.6 333.2 292.2 333.6 292.2 333.9 292.2 334.3 292.2 334.7 292.3 335.0 292.3 335.4 292.3 335.8 292.3 336.1 292.3 336.5 292.3 336.9 292.3 337.2 290.9 337.6 290.9 338.0 292.3 338.3 292.3 338.7 293.7 339.1 292.3 339.5 292.3 339.8 292.3 340.2 292.3 340.6 292.3 340.9 292.3 341.3 292.3 341.7 292.3 342.0 292.3 342.4 292.3 342.8 292.3 343.1 292.3 343.5 292.3 343.9 292.3 344.3 292.3 344.6 290.9 345.0 292.3 345.4 292.3 345.7 292.4 346.1 292.4 346.5 292.4 346.8 292.4 347.2 292.4 347.6 292.4 347.9 292.4 348.3 292.4 348.7 291.0 349.1 292.4 349.4 292.4 349.8 292.4 350.2 292.4 350.5 292.4 350.9 292.4 351.3 292.4 351.6 292.4 352.0 292.4 352.4 292.4 352.7 292.4 353.1 292.4 353.5 292.4 353.9 291.0 354.2 292.4 354.6 292.4 355.0 292.4 355.3 292.4 355.7 292.4 356.1 292.4 356.4 292.5 356.8 292.5 357.2 292.5 357.5 292.5 357.9 292.5 358.3 292.5 358.7 292.5 359.0 292.5 359.4 292.5 359.8 292.5 360.1 291.1 360.5 292.5 360.9 292.5 361.2 292.5 361.6 293.9 362.0 292.5 362.3 292.5 362.7 292.5 363.1 292.5 363.4 292.5 363.8 292.5 364.2 292.5 364.6 292.5 364.9 292.5 365.3 292.5 365.7 292.5 366.0 292.5 366.4 292.5 366.8 292.5 367.1 292.5 367.5 292.6 367.9 292.6 368.2 292.6 368.6 291.2 369.0 292.6 369.4 292.6 369.7 292.6 370.1 292.6 370.5 292.6 370.8 292.6 371.2 292.6 371.6 292.6 371.9 292.6 372.3 292.6 372.7 292.6 373.0 292.6 373.4 292.6 373.8 292.6 374.2 292.6 374.5 292.6 374.9 291.2 375.3 292.6 375.6 292.6 376.0 292.6 376.4 292.6 376.7 292.6 377.1 292.6 377.5 292.6 377.8 292.6 378.2 292.6 378.6 292.7 379.0 294.1 379.3 292.7 379.7 294.1 380.1 294.1 380.4 292.7 380.8 292.7 381.2 292.7 381.5 292.7 381.9 292.7 382.3 292.7 382.6 292.7 383.0 292.7 383.4 292.7 383.7 292.7 384.1 292.7 384.5 292.7 384.9 292.7 385.2 292.7 385.6 292.7 386.0 291.3 386.3 292.7 386.7 292.7 387.1 292.7 387.4 292.7 387.8 291.3 388.2 292.7 388.5 292.7 388.9 292.7 389.3 292.8 389.7 292.8 390.0 292.8 390.4 292.8 390.8 292.8 391.1 292.8 391.5 292.8 391.9 294.2 392.2 292.8 392.6 292.8 393.0 292.8 393.3 292.8 393.7 292.8 394.1 292.8 394.5 292.8 394.8 292.8 395.2 292.8 395.6 292.8 395.9 292.8 396.3 292.8 396.7 292.8 397.0 292.8 397.4 292.8 397.8 292.8 398.1 292.8 398.5 292.8 398.9 292.8 399.3 292.8 399.6 292.8 400.0 294.2 400.4 292.9 400.7 291.5 401.1 292.9 401.5 292.9 401.8 292.9 402.2 292.9 402.6 292.9 402.9 291.5 403.3 292.9 403.7 292.9 404.0 292.9 404.4 292.9 404.8 292.9 405.2 292.9 405.5 292.9 405.9 292.9 406.3 292.9 406.6 294.3 407.0 292.9 407.4 291.5 407.7 292.9 408.1 292.9 408.5 292.9 408.8 292.9 409.2 292.9 409.6 292.9 410.0 292.9 410.3 292.9 410.7 292.9 411.1 292.9 411.4 293.0 411.8 293.0 412.2 293.0 412.5 293.0 412.9 293.0 413.3 293.0 413.6 293.0 414.0 293.0 414.4 293.0 414.8 293.0 415.1 294.4 415.5 293.0 415.9 293.0 416.2 293.0 416.6 293.0 417.0 293.0 417.3 293.0 417.7 293.0 418.1 293.0 418.4 293.0 418.8 293.0 419.2 293.0 419.6 293.0 419.9 293.0 420.3 293.0 420.7 293.0 421.0 293.0 421.4 293.0 421.8 294.4 422.1 293.0 422.5 293.0 422.9 293.0 423.2 293.0 423.6 291.6 424.0 293.0 424.3 293.0 424.7 291.6 425.1 293.0 425.5 293.0 425.8 293.0 426.2 293.0 426.6 293.0 426.9 293.0 427.3 294.4 427.7 293.0 428.0 293.0 428.4 293.0 428.8 293.0 429.1 293.0 429.5 293.0 429.9 293.0 430.3 293.0 430.6 293.0 431.0 293.0 431.4 293.0 431.7 293.0 432.1 293.0 432.5 293.0 432.8 293.0 433.2 293.0 433.6 293.0 433.9 293.0 434.3 293.0 434.7 291.6 435.1 293.0 435.4 293.0 435.8 293.0 436.2 293.0 436.5 293.0 436.9 293.0 437.3 293.0 437.6 293.0 438.0 291.6 438.4 293.0 438.7 293.0 439.1 293.0 439.5 293.0 439.9 293.0 440.2 293.0 440.6 293.0 441.0 292.9 441.3 292.9 441.7 292.9 442.1 292.9 442.4 292.9 442.8 292.9 443.2 292.9 443.5 292.9 443.9 292.9 444.3 294.3 444.7 292.9 445.0 292.9 445.4 292.9 445.8 292.9 446.1 291.5 446.5 292.9 446.9 292.9 447.2 292.9 447.6 292.9 448.0 292.9 448.3 292.9 448.7 292.9 449.1 292.9 449.4 292.9 449.8 292.9 450.2 292.9 450.6 292.9 450.9 292.9 451.3 292.9 451.7 292.9 452.0 292.9 452.4 292.9 452.8 292.9 453.1 292.9 453.5 292.9 453.9 292.9 454.2 292.9 454.6 292.9 455.0 292.9 455.4 292.9 455.7 292.9 456.1 292.9 456.5 292.9 456.8 292.9 457.2 292.9 457.6 294.3 457.9 291.5 458.3 292.9 458.7 292.9 459.0 292.9 459.4 292.9 459.8 292.9 460.2 292.9 460.5 292.9 460.9 292.9 461.3 292.9 461.6 292.9 462.0 292.9 462.4 292.9 462.7 292.9 463.1 292.9 463.5 292.9 463.8 292.9 464.2 292.9 464.6 292.9 465.0 292.9 465.3 292.9 465.7 292.9 466.1 292.9 466.4 292.9 466.8 292.9 467.2 291.5 467.5 292.9 467.9 292.9 468.3 292.9 468.6 292.9 469.0 292.9 469.4 291.5 469.7 292.9 470.1 292.9 470.5 292.9 470.9 292.9 471.2 292.9 471.6 292.9 472.0 292.9 472.3 292.9 472.7 292.9 473.1 292.9 473.4 292.9 473.8 292.9 474.2 292.9 474.5 292.9 474.9 292.9 475.3 292.9 475.7 292.9 476.0 292.9 476.4 292.9 476.8 292.9 477.1 292.9 477.5 294.3 477.9 292.9 478.2 294.3 478.6 292.9 479.0 292.9 479.3 292.9 479.7 292.9 480.1 292.9 480.5 292.9 480.8 292.9 481.2 292.9 481.6 292.9 481.9 292.9 482.3 292.9 482.7 292.9 483.0 292.9 483.4 292.9 483.8 292.9 484.1 292.9 484.5 291.5 484.9 292.9 485.3 292.9 485.6 292.9 486.0 292.9 486.4 292.9 486.7 292.9 487.1 292.9 487.5 292.9 487.8 292.9 488.2 291.5 488.6 292.9 488.9 292.9 489.3 292.8 489.7 292.8 490.0 291.4 490.4 291.4 490.8 292.8 491.2 292.8 491.5 292.8 491.9 292.8 492.3 292.8 492.6 292.8 493.0 292.8 493.4 292.8 493.7 292.8 494.1 292.8 494.5 291.4 494.8 292.8 495.2 292.8 495.6 292.8 496.0 291.4 496.3 292.8 496.7 292.8 497.1 292.8 497.4 292.8 497.8 292.8 498.2 292.8 498.5 292.8 498.9 292.8 499.3 292.8 499.6 292.8 500.0 292.8 500.4 292.8 500.8 292.8 501.1 292.8 501.5 292.8 501.9 294.2 502.2 292.8 502.6 292.8 503.0 292.8 503.3 292.8 503.7 292.8 504.1 292.8 504.4 292.8 504.8 292.8 505.2 292.8 505.6 292.8 505.9 292.7 506.3 292.7 506.7 292.7 507.0 292.7 507.4 292.7 507.8 292.7 508.1 292.7 508.5 292.7 508.9 292.7 509.2 292.7 509.6 292.7 510.0 292.6 510.4 292.6 510.7 292.6 511.1 292.5 511.5 291.1 511.8 292.4 512.2 292.3 512.6 292.2 512.9 292.0 513.3 291.8 513.7 291.5 514.0 291.2 514.4 290.8 514.8 290.3 515.1 288.6 515.5 290.1 515.9 287.2 516.3 287.1 516.6 286.1 517.0 283.6 517.4 280.4 517.7 279.7 518.1 274.4 518.5 269.4 518.8 265.2 519.2 265.7 519.6 261.2 519.9 264.9 520.3 269.0 520.7 273.9 521.1 276.5 521.4 281.7 521.8 283.4 522.2 285.0 522.5 286.9 522.9 287.6 523.3 288.7 523.6 290.8 524.0 290.3 524.4 290.8 524.7 291.2 525.1 291.5 525.5 291.8 525.9 292.0 526.2 292.2 526.6 292.3 527.0 292.4 527.3 292.5 527.7 292.5 528.1 291.1 528.4 292.6 528.8 292.6 529.2 292.6 529.5 292.6 529.9 292.6 530.3 292.6 530.7 292.7 531.0 292.7 531.4 292.7 531.8 291.3 532.1 292.7 532.5 292.7 532.9 292.7 533.2 292.7 533.6 292.7 534.0 292.7 534.3 292.7 534.7 292.7 535.1 292.7 535.4 292.7 535.8 292.7 536.2 292.7 536.6 292.7 536.9 292.7 537.3 292.7 537.7 292.7 538.0 292.7 538.4 292.7 538.8 292.7 539.1 292.7 539.5 292.7 539.9 292.7 540.2 292.7 540.6 292.7 541.0 291.3 541.4 292.7 541.7 292.7 542.1 292.7 542.5 292.7 542.8 292.7 543.2 294.1 543.6 292.7 543.9 291.3 544.3 292.7 544.7 291.3 545.0 292.7 545.4 294.1 545.8 292.7 546.2 292.7 546.5 292.7 546.9 292.7 547.3 292.7 547.6 292.7 548.0 292.7 548.4 292.7 548.7 292.7 549.1 292.7 549.5 292.7 549.8 292.7 550.2 292.7 550.6 292.7 551.0 292.7 551.3 292.7 551.7 292.7 552.1 292.7 552.4 292.7 552.8 292.7 553.2 292.7 553.5 292.7 553.9 292.7 554.3 292.7 554.6 294.1 555.0 292.7 555.4 292.6 555.7 294.0 556.1 292.6 556.5 292.6 556.9 292.6 557.2 292.6 557.6 292.6 558.0 292.6 558.3 292.6 558.7 292.6 559.1 291.2 559.4 292.6 559.8 292.6 560.2 292.6 560.5 292.6 560.9 292.6 561.3 294.0 561.7 292.6 562.0 292.6 562.4 292.6 562.8 291.1 563.1 292.5 563.5 292.5 563.9 292.5 564.2 292.5 564.6 292.5 565.0 292.5 565.3 292.5 565.7 292.5 566.1 292.4 566.5 292.4 566.8 292.4 567.2 292.4 567.6 292.4 567.9 292.4 568.3 292.3 568.7 292.3 569.0 292.3 569.4 292.2 569.8 292.2 570.1 292.1 570.5 292.1 570.9 292.0 571.3 291.9 571.6 291.7 572.0 291.5 572.4 291.3 572.7 291.0 573.1 290.6 573.5 290.1 573.8 289.6 574.2 288.0 574.6 289.4 574.9 285.6 575.3 286.3 575.7 281.5 576.1 283.3 576.4 277.3 576.8 274.8 577.2 270.1 577.5 259.3 577.9 251.6 578.3 237.8 578.6 228.3 579.0 215.8 579.4 203.3 579.7 196.3 580.1 191.6 580.5 207.8 580.8 215.9 581.2 225.5 581.6 241.4 582.0 250.7 582.3 259.0 582.7 269.4 583.1 274.3 583.4 277.5 583.8 281.7 584.2 282.1 584.5 283.7 584.9 286.3 585.3 287.0 585.6 289.4 586.0 289.3 586.4 290.0 586.8 290.5 587.1 290.9 587.5 291.2 587.9 291.4 588.2 291.6 588.6 293.2 589.0 291.9 589.3 292.0 589.7 292.0 590.1 292.1 590.4 292.1 590.8 292.1 591.2 292.2 591.6 292.2 591.9 292.2 592.3 292.2 592.7 290.8 593.0 292.2 593.4 292.2 593.8 292.3 594.1 292.3 594.5 292.3 594.9 292.3 595.2 292.3 595.6 292.3 596.0 292.3 596.4 290.9 596.7 292.3 597.1 292.3 597.5 292.3 597.8 292.3 598.2 292.2 598.6 292.2 598.9 292.2 599.3 292.2 599.7 292.2 600.0 292.2 600.4 292.2 600.8 292.1 601.1 292.1 601.5 292.1 601.9 292.1 602.3 292.0 602.6 292.0 603.0 291.9 603.4 291.9 603.7 291.8 604.1 291.7 604.5 291.5 604.8 291.4 605.2 291.1 605.6 290.8 605.9 290.4 606.3 289.9 606.7 289.2 607.1 288.3 607.4 288.6 607.8 287.0 608.2 285.1 608.5 282.9 608.9 279.5 609.3 277.6 609.6 273.1 610.0 267.7 610.4 255.4 610.7 250.6 611.1 236.2 611.5 221.5 611.9 199.5 612.2 185.2 612.6 170.9 613.0 172.7 613.3 173.7 613.7 189.7 614.1 202.6 614.4 219.7 614.8 235.5 615.2 246.0 615.5 260.6 615.9 265.8 616.3 274.0 616.7 277.1 617.0 279.9 617.4 284.1 617.8 284.8 618.1 287.9 618.5 287.7 618.9 288.5 619.2 288.9 619.6 289.9 620.0 290.4 620.3 290.8 620.7 291.1 621.1 291.3 621.4 291.5 621.8 291.6 622.2 291.7 622.6 291.8 622.9 291.9 623.3 291.9 623.7 291.9 624.0 291.9 624.4 293.3 624.8 291.9 625.1 291.9 625.5 291.9 625.9 290.5 626.2 291.9 626.6 291.8 627.0 291.8 627.4 291.7 627.7 291.6 628.1 291.5 628.5 291.4 628.8 291.3 629.2 291.2 629.6 291.0 629.9 290.9 630.3 290.7 630.7 290.4 631.0 288.7 631.4 289.8 631.8 289.7 632.2 289.4 632.5 288.6 632.9 287.5 633.3 286.5 633.6 287.6 634.0 285.5 634.4 285.0 634.7 284.9 635.1 282.5 635.5 282.6 635.8 282.2 636.2 281.2 636.6 281.1 637.0 280.2 637.3 282.5 637.7 280.1 638.1 281.2 638.4 282.9 638.8 282.3 639.2 283.6 639.5 284.3 639.9 286.3 640.3 285.3 640.6 287.6 641.0 287.7 641.4 287.8 641.7 291.0 642.1 289.3 642.5 289.9 642.9 290.2 643.2 290.5 643.6 289.4 644.0 291.0 644.3 291.2 644.7 291.3 645.1 291.5 645.4 291.6 645.8 291.7 646.2 291.8 646.5 291.9 646.9 292.0 647.3 292.1 647.7 292.1 648.0 292.2 648.4 292.2 648.8 292.3 649.1 292.3 649.5 292.3 649.9 292.4 650.2 292.4 650.6 292.4 651.0 292.4 651.3 292.4 651.7 292.4 652.1 292.5 652.5 292.5 652.8 291.1 653.2 292.5 653.6 292.5 653.9 292.5 654.3 292.5 654.7 292.5 655.0 292.5 655.4 292.5 655.8 292.5 656.1 292.5 656.5 292.5 656.9 292.5 657.3 293.9 657.6 293.9 658.0 292.5 658.4 292.5 658.7 292.5 659.1 292.5 659.5 292.5 659.8 292.5 660.2 291.1 660.6 292.5 660.9 292.5 661.3 292.5 661.7 292.5 662.1 292.5 662.4 292.5 662.8 292.5 663.2 292.5 663.5 292.5 663.9 292.5 664.3 292.5 664.6 292.5 665.0 292.5 665.4 292.5 665.7 291.1 666.1 292.5 666.5 292.5 666.8 292.5 667.2 292.6 667.6 292.6 668.0 292.6 668.3 292.6 668.7 292.6 669.1 292.6 669.4 292.6 669.8 292.6 670.2 292.6 670.5 292.6 670.9 292.6 671.3 292.6 671.6 292.6 672.0 292.6 672.4 292.6 672.8 291.2 673.1 292.6 673.5 292.6 673.9 292.6 674.2 292.6 674.6 292.6 675.0 292.6 675.3 291.2 675.7 292.6 676.1 292.6 676.4 292.6 676.8 291.2 677.2 292.6 677.6 292.6 677.9 292.6 678.3 292.6 678.7 292.6 679.0 292.6 679.4 292.6 679.8 292.6 680.1 292.6 680.5 292.6 680.9 294.0 681.2 292.6 681.6 292.6 682.0 292.6 682.4 292.6 682.7 292.6 683.1 292.6 683.5 292.6 683.8 292.6 684.2 292.6 684.6 292.6 684.9 292.6 685.3 292.6 685.7 291.2 686.0 292.6 686.4 292.6 686.8 292.6 687.1 292.6 687.5 292.6 687.9 292.6 688.3 292.6 688.6 292.6 689.0 292.6 689.4 292.6 689.7 292.6 690.1 292.6 690.5 292.6 690.8 292.6 691.2 291.2 691.6 292.6 691.9 292.6 692.3 292.6 692.7 292.6 693.1 292.6 693.4 292.6 693.8 292.6 694.2 292.6 694.5 292.6 694.9 292.6 695.3 292.6 695.6 292.6 696.0 292.6 696.4 292.6 696.7 292.6 697.1 291.2 697.5 292.6 697.9 292.6 698.2 292.6 698.6 291.2 699.0 292.6 699.3 292.6 699.7 291.2 700.1 292.6 700.4 292.6 700.8 292.6 701.2 292.6 701.5 294.0 701.9 292.6 702.3 292.6 702.7 292.6 703.0 292.6 703.4 292.6 703.8 292.6 704.1 292.6 704.5 292.6 704.9 292.6 705.2 292.6 705.6 292.6 706.0 292.6 706.3 292.6 706.7 292.6 707.1 292.6 707.4 292.6 707.8 292.6 708.2 292.6 708.6 292.6 708.9 292.6 709.3 292.6 709.7 292.6 710.0 292.6 710.4 292.6 710.8 292.6 711.1 292.6 711.5 292.6 711.9 292.6 712.2 292.6 712.6 292.6 713.0 292.6 713.4 292.6 713.7 292.6 714.1 292.6 714.5 292.6 714.8 292.6 715.2 292.6 715.6 292.6 715.9 292.6 716.3 294.0 716.7 292.6 717.0 292.6 717.4 292.6 717.8 291.2 718.2 292.6 718.5 291.2 718.9 291.2 719.3 292.6 719.6 292.6 720.0 292.6 720.4 292.6 720.7 292.6 721.1 292.6 721.5 292.6 721.8 292.6 722.2 292.6 722.6 292.6 723.0 294.0 723.3 292.6 723.7 292.6 724.1 292.6 724.4 292.6 724.8 292.6 725.2 291.2 725.5 292.6 725.9 292.6 726.3 292.6 726.6 292.6 727.0 292.6 727.4 292.6 727.8 292.6 728.1 292.6 728.5 292.6 728.9 292.6 729.2 292.6 729.6 292.6 730.0 292.6 730.3 292.6 730.7 292.6 731.1 292.6 731.4 292.6 731.8 292.6 732.2 292.6 732.5 292.6 732.9 292.6 733.3 292.6 733.7 292.6 734.0 292.6 734.4 291.2 734.8 292.6 735.1 291.2 735.5 292.6 735.9 292.6 736.2 292.6 736.6 292.6 737.0 292.6 737.3 292.6 737.7 292.6 738.1 292.6 738.5 292.6 738.8 292.6 739.2 292.6 739.6 292.6 739.9 292.6 740.3 292.6 740.7 292.6 741.0 292.6 741.4 292.6 741.8 292.6 742.1 292.6 742.5 292.6 742.9 292.6 743.3 292.6 743.6 292.6 744.0 292.6 744.4 292.6 744.7 292.6 745.1 292.6 745.5 292.6 745.8 292.6 746.2 292.6 746.6 292.6 746.9 292.6 747.3 292.6 747.7 292.6 748.1 292.6 748.4 292.6 748.8 292.6 749.2 292.6 749.5 292.6 749.9 292.6 750.3 292.6 750.6 292.6 751.0 292.6 751.4 292.6 751.7 292.6 752.1 292.6 752.5 292.6 752.8 292.6 753.2 292.6 753.6 292.6 754.0 292.7 754.3 292.7 754.7 292.7 755.1 292.7 755.4 292.7 755.8 292.7 756.2 292.7 756.5 292.7 756.9 292.7 757.3 292.7 757.6 292.7 758.0 292.7 758.4 292.7 758.8 292.7 759.1 292.7 759.5 292.7 759.9 292.7 760.2 294.1 760.6 292.7 761.0 291.3 761.3 292.7 761.7 292.7 762.1 292.7 762.4 292.7 762.8 292.7 763.2 292.7 763.6 292.7 763.9 292.7 764.3 292.7 764.7 292.7 765.0 292.7 765.4 292.7 765.8 292.7 766.1 292.7 766.5 292.7 766.9 292.7 767.2 292.7 767.6 291.3 768.0 292.7 768.4 292.7 768.7 292.7 769.1 292.7 769.5 292.7 769.8 292.7 770.2 292.7 770.6 292.7 770.9 292.7 771.3 292.7 771.7 292.7 772.0 292.7 772.4 292.7 772.8 292.7 773.1 291.3 773.5 292.7 773.9 292.7 774.3 292.7 774.6 292.7 775.0 292.7 775.4 292.7 775.7 291.3 776.1 292.7 776.5 292.7 776.8 291.3 777.2 292.7 777.6 292.7 777.9 292.7 778.3 292.7 778.7 292.7 779.1 292.7 779.4 292.7 779.8 292.7 780.2 292.7 780.5 292.7 780.9 292.7 781.3 291.3 781.6 292.7 782.0 292.7 782.4 291.3 782.7 292.7 783.1 292.7 783.5 292.7 783.9 292.7 784.2 292.7 784.6 292.7 785.0 292.7 785.3 291.3 785.7 292.7 786.1 292.7 786.4 292.7 786.8 291.3 787.2 292.7 787.5 292.7 787.9 291.3 788.3 292.7 788.7 292.7 789.0 292.7 789.4 292.7 789.8 292.7 790.1 294.1 790.5 292.7 790.9 292.7 791.2 292.7 791.6 292.7 792.0 292.7 792.3 292.7 792.7 292.7 793.1 292.7 793.4 292.7 793.8 294.1 794.2 292.7 794.6 292.7 794.9 292.7 795.3 292.7 795.7 294.1 796.0 294.1 796.4 292.7 796.8 292.7 797.1 292.7 797.5 292.7 797.9 292.7 798.2 292.7 798.6 292.7 799.0 292.7 799.4 292.7 799.7 292.7 800.1 292.7 800.5 292.7 800.8 294.1 801.2 292.7 801.6 292.7 801.9 292.7 802.3 292.7 802.7 292.7 803.0 292.7 803.4 292.7 803.8 292.7 804.2 292.7 804.5 292.7 804.9 292.7 805.3 292.7 805.6 292.7 806.0 292.7 806.4 292.7 806.7 292.7 807.1 292.7 807.5 292.7 807.8 292.7 808.2 292.7 808.6 292.7 809.0 292.7 809.3 292.7 809.7 292.7 810.1 292.7 810.4 292.7 810.8 294.1 811.2 291.3 811.5 292.7 811.9 292.7 812.3 292.7 812.6 292.7 813.0 292.7 813.4 294.1 813.8 292.7 814.1 292.7 814.5 292.7 814.9 292.7 815.2 292.7 815.6 292.7 816.0 292.7 816.3 292.7 816.7 292.7 817.1 291.3 817.4 292.7 817.8 292.7 818.2 292.7 818.5 292.7 818.9 292.7 819.3 292.7 819.7 291.3 820.0 292.7 820.4 292.7 820.8 292.7 821.1 294.1 821.5 292.7 821.9 292.7 822.2 292.7 822.6 292.7 823.0 292.7 823.3 292.7 823.7 291.3 824.1 292.7 824.5 292.7 824.8 292.7 825.2 292.7 825.6 292.7 825.9 294.1 826.3 292.7 826.7 292.7 827.0 292.7 827.4 292.7 827.8 292.7 828.1 294.1 828.5 292.7 828.9 292.7 829.3 292.7 829.6 292.7 830.0 292.7 830.4 292.7 830.7 292.7 831.1 292.7 831.5 292.7 831.8 294.1 832.2 292.6 832.6 291.2 832.9 292.6 833.3 292.6 833.7 292.6 834.1 292.6 834.4 292.6 834.8 292.6 835.2 292.6 835.5 292.6 835.9 292.6 836.3 292.6 836.6 292.6 837.0 292.6 837.4 292.6 837.7 292.6 838.1 292.6 838.5 292.6 838.8 292.6 839.2 292.5 839.6 292.5 840.0 292.5 840.3 292.5 840.7 292.4 841.1 292.4 841.4 292.3 841.8 292.3 842.2 292.2 842.5 292.0 842.9 291.9 843.3 291.7 843.6 291.5 844.0 291.2 844.4 290.9 844.8 290.5 845.1 288.5 845.5 289.1 845.9 287.6 846.2 288.1 846.6 284.6 847.0 283.6 847.3 281.4 847.7 279.7 848.1 279.1 848.4 275.5 848.8 272.2 849.2 271.8 849.6 270.0 849.9 271.5 850.3 272.2 850.7 274.0 851.0 275.6 851.4 277.7 851.8 278.8 852.1 282.3 852.5 285.0 852.9 284.9 853.2 287.8 853.6 288.1 854.0 289.0 854.4 289.9 854.7 290.5 855.1 292.3 855.5 291.2 855.8 291.5 856.2 291.7 856.6 293.3 856.9 292.0 857.3 292.2 857.7 293.7 858.0 292.3 858.4 292.4 858.8 292.4 859.1 292.5 859.5 292.5 859.9 292.5 860.3 292.6 860.6 292.6 861.0 292.6 861.4 292.6 861.7 292.6 862.1 292.6 862.5 292.6 862.8 292.6 863.2 292.6 863.6 292.6 863.9 292.6 864.3 292.6 864.7 291.3 865.1 292.7 865.4 291.3 865.8 292.7 866.2 292.7 866.5 292.7 866.9 292.7 867.3 292.7 867.6 292.7 868.0 292.7 868.4 292.7 868.7 292.7 869.1 292.7 869.5 292.7 869.9 292.7 870.2 292.7 870.6 292.7 871.0 292.7 871.3 292.7 871.7 292.7 872.1 294.1 872.4 292.7 872.8 292.7 873.2 292.7 873.5 292.7 873.9 292.7 874.3 294.1 874.7 292.7 875.0 292.7 875.4 292.7 875.8 292.7 876.1 292.7 876.5 292.7 876.9 292.7 877.2 292.7 877.6 292.7 878.0 294.1 878.3 292.7 878.7 292.7 879.1 292.7 879.5 292.7 879.8 292.7 880.2 292.7 880.6 292.7 880.9 292.7 881.3 292.7 881.7 292.7 882.0 292.7 882.4 292.7 882.8 292.7 883.1 292.7 883.5 292.7 883.9 292.7 884.2 292.7 884.6 292.7 885.0 292.7 885.4 292.7 885.7 292.7 886.1 292.7 886.5 291.3 886.8 292.7 887.2 292.7 887.6 292.7 887.9 292.7 888.3 292.7 888.7 292.7 889.0 292.7 889.4 292.7 889.8 292.7 890.2 292.7 890.5 292.7 890.9 292.7 891.3 292.7 891.6 292.7 892.0 292.7 892.4 292.7 892.7 292.7 893.1 292.7 893.5 292.7 893.8 292.7 894.2 292.7 894.6 292.7 895.0 292.7 895.3 292.7 895.7 291.3 896.1 292.7 896.4 292.7 896.8 292.7 897.2 292.7 897.5 292.7 897.9 294.1 898.3 292.7 898.6 292.7 899.0 292.7 899.4 292.7 899.8 292.7 900.1 292.7 900.5 292.7 900.9 292.7 901.2 292.7 901.6 291.3 902.0 292.7 902.3 292.7 902.7 292.7 903.1 292.7 903.4 292.7 903.8 292.7 904.2 292.7 904.5 292.7 904.9 292.7 905.3 292.7 905.7 292.7 906.0 292.7 906.4 292.7 906.8 292.7 907.1 292.7 907.5 292.7 907.9 292.7 908.2 292.7 908.6 292.7 909.0 294.1 909.3 292.8 909.7 292.8 910.1 292.8 910.5 292.8 910.8 294.2 911.2 292.8 911.6 292.8 911.9 292.8 912.3 292.8 912.7 292.8 913.0 292.8 913.4 292.8 913.8 292.8 914.1 292.8 914.5 292.8 914.9 292.8 915.3 292.8 915.6 292.8 916.0 291.4 916.4 292.8 916.7 292.8 917.1 292.8 917.5 292.8 917.8 292.8 918.2 292.8 918.6 292.8 918.9 292.8 919.3 292.8 919.7 294.2 920.1 292.8 920.4 292.8 920.8 292.8 921.2 292.8 921.5 294.2 921.9 292.8 922.3 292.8 922.6 292.8 923.0 292.8 923.4 292.8 923.7 292.8 924.1 292.8 924.5 292.8 924.8 294.2 925.2 292.8 925.6 292.8 926.0 292.8 926.3 292.8 926.7 292.8 927.1 292.8 927.4 292.8 927.8 294.2 928.2 291.4 928.5 292.8 928.9 292.8 929.3 292.8 929.6 292.8 930.0 292.8 930.4 292.8 930.8 292.8 931.1 292.8 931.5 292.8 931.9 292.8 932.2 291.4 932.6 292.8 933.0 292.8 933.3 292.8 933.7 292.8 934.1 292.8 934.4 292.8 934.8 292.8 935.2 292.8 935.6 292.8 935.9 292.8 936.3 291.4 936.7 292.8 937.0 292.8 937.4 292.8 937.8 292.8 938.1 292.8 938.5 292.8 938.9 292.8 939.2 292.8 939.6 292.8 940.0 292.8 940.4 292.8 940.7 292.8 941.1 292.8 941.5 292.8 941.8 292.8 942.2 292.8 942.6 292.8 942.9 292.8 943.3 292.8 943.7 292.8 944.0 292.8 944.4 292.8 944.8 292.8 945.2 294.2 945.5 292.8 945.9 292.8 946.3 292.8 946.6 292.8 947.0 291.4 947.4 292.8 947.7 292.8 948.1 292.8 948.5 292.8 948.8 292.8 949.2 292.8 949.6 292.8 949.9 292.8 950.3 292.8 950.7 292.8 951.1 292.8 951.4 292.8 951.8 291.4 952.2 292.8 952.5 292.8 952.9 292.8 953.3 292.8 953.6 292.8 954.0 292.8 954.4 292.8 954.7 292.8 955.1 292.8 955.5 292.8 955.9 292.8 956.2 292.8 956.6 292.8 957.0 292.8 957.3 292.8 957.7 292.8 958.1 292.8 958.4 292.8 958.8 292.8 959.2 292.8 959.5 292.8 959.9 292.8 960.3 292.8 960.7 292.8 961.0 292.8 961.4 292.8 961.8 291.4 962.1 292.8 962.5 292.8 962.9 292.8 963.2 292.8 963.6 292.8 964.0 292.8 964.3 292.8 964.7 292.8 965.1 292.8 965.5 292.8 965.8 292.8 966.2 292.8 966.6 292.8 966.9 292.8 967.3 292.8 967.7 292.8 968.0 292.8 968.4 292.8 968.8 292.8 969.1 292.8 969.5 292.8 969.9 292.8 970.2 292.8 970.6 292.8 971.0 292.8 971.4 292.8 971.7 292.8 972.1 292.8 972.5 292.8 972.8 292.8 973.2 292.8 973.6 292.8 973.9 292.8 974.3 292.8 974.7 292.8 975.0 292.8 975.4 292.8 975.8 292.8 976.2 292.8 976.5 292.8 976.9 292.8 977.3 292.8 977.6 292.8 978.0 292.8" stroke="#ff00ff" stroke-width="1.6" fill="none" marker-mid="url(#mm)"/>
<path d="M55.2 413.7 55.6 410.9 56.0 412.3 56.4 412.3 56.7 412.3 57.1 412.3 57.5 410.9 57.8 412.3 58.2 412.3 58.6 413.7 58.9 412.3 59.3 412.3 59.7 412.3 60.0 412.3 60.4 412.3 60.8 412.3 61.2 412.3 61.5 412.3 61.9 412.3 62.3 412.3 62.6 412.3 63.0 412.3 63.4 412.3 63.7 412.3 64.1 412.3 64.5 412.3 64.8 413.7 65.2 412.3 65.6 412.3 66.0 412.3 66.3 412.3 66.7 412.3 67.1 412.3 67.4 412.3 67.8 412.3 68.2 412.3 68.5 410.9 68.9 412.3 69.3 412.3 69.6 410.9 70.0 412.3 70.4 412.3 70.8 412.3 71.1 412.3 71.5 412.3 71.9 412.3 72.2 412.3 72.6 412.3 73.0 412.3 73.3 412.3 73.7 412.3 74.1 412.3 74.4 412.3 74.8 412.3 75.2 412.3 75.6 412.3 75.9 412.3 76.3 410.9 76.7 412.3 77.0 412.3 77.4 412.3 77.8 412.3 78.1 412.3 78.5 412.3 78.9 410.9 79.2 412.3 79.6 412.3 80.0 412.3 80.3 410.9 80.7 412.3 81.1 412.3 81.5 412.3 81.8 412.3 82.2 412.3 82.6 412.3 82.9 412.4 83.3 412.4 83.7 412.4 84.0 412.4 84.4 411.0 84.8 413.8 85.1 412.4 85.5 412.4 85.9 412.4 86.3 412.4 86.6 412.4 87.0 412.4 87.4 412.4 87.7 412.4 88.1 412.4 88.5 412.4 88.8 412.4 89.2 412.4 89.6 412.4 89.9 412.4 90.3 411.0 90.7 412.4 91.1 412.4 91.4 412.4 91.8 412.4 92.2 412.4 92.5 412.4 92.9 412.4 93.3 412.4 93.6 412.4 94.0 412.4 94.4 412.4 94.7 412.4 95.1 412.4 95.5 413.8 95.9 412.4 96.2 412.4 96.6 411.0 97.0 412.4 97.3 412.4 97.7 412.4 98.1 411.0 98.4 412.4 98.8 412.4 99.2 412.4 99.5 412.4 99.9 412.4 100.3 412.4 100.6 412.4 101.0 413.8 101.4 412.4 101.8 412.4 102.1 412.4 102.5 413.8 102.9 412.4 103.2 412.4 103.6 412.4 104.0 412.4 104.3 412.4 104.7 412.4 105.1 412.4 105.4 412.4 105.8 412.4 106.2 412.4 106.6 412.4 106.9 412.4 107.3 412.4 107.7 413.8 108.0 412.4 108.4 412.4 108.8 412.4 109.1 412.4 109.5 412.4 109.9 412.4 110.2 412.4 110.6 412.4 111.0 412.4 111.4 412.4 111.7 412.4 112.1 412.4 112.5 412.4 112.8 412.4 113.2 412.4 113.6 412.4 113.9 412.4 114.3 412.4 114.7 412.4 115.0 412.4 115.4 412.4 115.8 412.4 116.2 413.8 116.5 411.0 116.9 412.4 117.3 412.4 117.6 412.4 118.0 412.4 118.4 412.4 118.7 412.4 119.1 412.4 119.5 412.4 119.8 412.4 120.2 412.4 120.6 412.4 120.9 412.4 121.3 413.8 121.7 412.4 122.1 413.8 122.4 412.4 122.8 412.4 123.2 412.4 123.5 412.4 123.9 412.4 124.3 412.4 124.6 412.4 125.0 412.4 125.4 412.4 125.7 412.4 126.1 412.4 126.5 412.4 126.9 412.4 127.2 412.4 127.6 412.4 128.0 412.4 128.3 412.4 128.7 412.4 129.1 412.4 129.4 412.4 129.8 412.4 130.2 412.4 130.5 412.4 130.9 412.4 131.3 411.0 131.7 412.4 132.0 412.4 132.4 412.4 132.8 412.4 133.1 412.4 133.5 412.4 133.9 412.4 134.2 412.4 134.6 412.4 135.0 412.4 135.3 412.4 135.7 412.4 136.1 412.4 136.5 411.0 136.8 412.4 137.2 412.5 137.6 412.5 137.9 412.5 138.3 411.1 138.7 412.5 139.0 412.5 139.4 412.5 139.8 412.5 140.1 412.5 140.5 411.1 140.9 412.5 141.3 412.5 141.6 412.5 142.0 412.5 142.4 412.5 142.7 412.5 143.1 412.5 143.5 412.5 143.8 412.5 144.2 412.5 144.6 413.9 144.9 412.5 145.3 412.5 145.7 412.5 146.0 412.5 146.4 413.9 146.8 412.5 147.2 412.5 147.5 412.5 147.9 412.5 148.3 413.9 148.6 412.5 149.0 412.5 149.4 412.5 149.7 412.5 150.1 412.5 150.5 413.9 150.8 412.5 151.2 412.5 151.6 412.5 152.0 412.5 152.3 412.5 152.7 412.5 153.1 412.5 153.4 412.5 153.8 412.5 154.2 412.5 154.5 412.5 154.9 412.5 155.3 412.5 155.6 412.5 156.0 412.5 156.4 412.5 156.8 412.5 157.1 412.5 157.5 413.9 157.9 412.5 158.2 412.5 158.6 412.5 159.0 412.5 159.3 411.1 159.7 412.5 160.1 412.5 160.4 412.5 160.8 412.5 161.2 412.5 161.6 412.5 161.9 412.5 162.3 412.5 162.7 412.5 163.0 413.9 163.4 412.5 163.8 413.9 164.1 412.5 164.5 412.5 164.9 412.5 165.2 411.1 165.6 412.5 166.0 412.5 166.3 412.5 166.7 412.5 167.1 412.5 167.5 412.5 167.8 411.1 168.2 412.5 168.6 412.5 168.9 412.5 169.3 412.5 169.7 412.5 170.0 412.5 170.4 412.5 170.8 412.5 171.1 412.5 171.5 412.5 171.9 412.5 172.3 412.5 172.6 412.5 173.0 412.5 173.4 412.5 173.7 412.5 174.1 412.5 174.5 412.5 174.8 412.5 175.2 412.5 175.6 412.5 175.9 412.5 176.3 412.5 176.7 413.9 177.1 412.5 177.4 412.5 177.8 412.5 178.2 412.5 178.5 412.5 178.9 412.5 179.3 412.5 179.6 411.1 180.0 412.5 180.4 412.5 180.7 412.5 181.1 412.5 181.5 412.5 181.9 412.5 182.2 412.5 182.6 412.5 183.0 412.5 183.3 412.5 183.7 412.5 184.1 412.5 184.4 412.5 184.8 412.5 185.2 412.5 185.5 412.5 185.9 413.9 186.3 412.5 186.6 412.5 187.0 412.5 187.4 412.5 187.8 412.5 188.1 412.5 188.5 412.5 188.9 412.5 189.2 412.5 189.6 411.1 190.0 412.5 190.3 412.5 190.7 412.5 191.1 412.5 191.4 412.5 191.8 412.5 192.2 412.5 192.6 412.5 192.9 412.5 193.3 412.5 193.7 412.5 194.0 412.5 194.4 413.9 194.8 412.6 195.1 412.6 195.5 412.6 195.9 412.6 196.2 412.6 196.6 412.6 197.0 412.6 197.4 412.6 197.7 412.6 198.1 412.6 198.5 412.6 198.8 411.2 199.2 412.6 199.6 412.6 199.9 412.6 200.3 412.6 200.7 412.6 201.0 412.6 201.4 412.6 201.8 412.6 202.2 412.6 202.5 412.6 202.9 412.6 203.3 412.6 203.6 412.6 204.0 412.6 204.4 412.6 204.7 412.6 205.1 412.6 205.5 412.6 205.8 412.6 206.2 412.6 206.6 412.6 207.0 412.6 207.3 412.6 207.7 412.6 208.1 412.6 208.4 414.0 208.8 411.2 209.2 412.6 209.5 412.6 209.9 412.6 210.3 412.6 210.6 412.6 211.0 412.6 211.4 412.6 211.7 412.6 212.1 412.6 212.5 412.6 212.9 412.6 213.2 412.6 213.6 412.6 214.0 412.6 214.3 412.6 214.7 412.6 215.1 412.6 215.4 412.6 215.8 412.6 216.2 412.6 216.5 412.6 216.9 412.6 217.3 412.6 217.7 411.2 218.0 412.6 218.4 412.6 218.8 412.6 219.1 412.6 219.5 412.6 219.9 412.6 220.2 412.6 220.6 412.6 221.0 412.6 221.3 412.6 221.7 412.6 222.1 412.6 222.5 412.6 222.8 412.6 223.2 412.6 223.6 412.6 223.9 412.6 224.3 412.6 224.7 412.6 225.0 412.6 225.4 412.6 225.8 412.6 226.1 412.6 226.5 412.6 226.9 412.6 227.3 412.6 227.6 414.0 228.0 414.0 228.4 412.6 228.7 412.6 229.1 411.2 229.5 412.6 229.8 412.6 230.2 412.6 230.6 412.6 230.9 412.6 231.3 412.6 231.7 412.6 232.0 412.6 232.4 412.6 232.8 412.6 233.2 412.6 233.5 412.5 233.9 412.5 234.3 412.5 234.6 412.5 235.0 412.5 235.4 412.5 235.7 412.5 236.1 412.4 236.5 412.4 236.8 413.8 237.2 412.3 237.6 412.3 238.0 412.2 238.3 412.1 238.7 412.0 239.1 411.9 239.4 411.7 239.8 411.6 240.2 411.4 240.5 411.2 240.9 410.9 241.3 410.5 241.6 411.5 242.0 409.4 242.4 408.5 242.8 408.6 243.1 405.7 243.5 405.9 243.9 406.1 244.2 403.3 244.6 403.0 245.0 402.8 245.3 400.6 245.7 398.2 246.1 396.5 246.4 395.9 246.8 395.2 247.2 395.1 247.6 394.8 247.9 396.7 248.3 396.5 248.7 396.5 249.0 398.4 249.4 401.1 249.8 401.7 250.1 402.0 250.5 406.3 250.9 406.7 251.2 407.1 251.6 408.0 252.0 409.3 252.3 410.2 252.7 410.1 253.1 410.6 253.5 412.3 253.8 411.2 254.2 411.4 254.6 411.6 254.9 411.8 255.3 411.9 255.7 412.0 256.0 412.1 256.4 412.2 256.8 412.2 257.1 412.3 257.5 412.3 257.9 412.3 258.3 412.3 258.6 412.3 259.0 412.2 259.4 410.8 259.7 412.1 260.1 412.0 260.5 412.0 260.8 411.8 261.2 411.7 261.6 411.6 261.9 412.8 262.3 411.3 262.7 409.7 263.1 409.5 263.4 410.7 263.8 410.6 264.2 410.4 264.5 410.2 264.9 410.1 265.3 410.0 265.6 409.9 266.0 409.4 266.4 410.1 266.7 409.3 267.1 410.3 267.5 409.9 267.9 410.0 268.2 410.2 268.6 411.7 269.0 410.5 269.3 409.3 269.7 410.9 270.1 411.1 270.4 411.2 270.8 411.4 271.2 411.6 271.5 411.8 271.9 411.9 272.3 412.1 272.6 412.2 273.0 412.3 273.4 412.4 273.8 412.5 274.1 412.6 274.5 412.7 274.9 412.7 275.2 412.8 275.6 412.8 276.0 412.8 276.3 412.9 276.7 413.1 277.1 413.2 277.4 413.3 277.8 413.4 278.2 413.5 278.6 413.6 278.9 413.7 279.3 413.8 279.7 413.9 280.0 414.0 280.4 414.0 280.8 414.1 281.1 412.8 281.5 414.3 281.9 414.4 282.2 414.5 282.6 414.6 283.0 416.1 283.4 414.8 283.7 414.9 284.1 415.0 284.5 415.0 284.8 415.0 285.2 413.6 285.6 415.0 285.9 415.0 286.3 415.0 286.7 415.0 287.0 415.0 287.4 415.0 287.8 415.0 288.2 415.0 288.5 415.0 288.9 415.0 289.3 415.0 289.6 415.0 290.0 415.0 290.4 415.0 290.7 415.0 291.1 415.0 291.5 415.0 291.8 415.0 292.2 415.0 292.6 415.0 293.0 415.0 293.3 415.0 293.7 415.1 294.1 415.1 294.4 415.1 294.8 415.1 295.2 415.1 295.5 415.1 295.9 415.1 296.3 415.1 296.6 415.1 297.0 415.1 297.4 415.1 297.7 415.1 298.1 415.1 298.5 415.1 298.9 415.1 299.2 415.1 299.6 415.1 300.0 415.1 300.3 413.7 300.7 415.1 301.1 415.1 301.4 415.1 301.8 415.1 302.2 415.1 302.5 415.1 302.9 415.1 303.3 415.1 303.7 415.1 304.0 415.1 304.4 416.5 304.8 415.1 305.1 416.5 305.5 415.2 305.9 415.2 306.2 415.2 306.6 416.6 307.0 415.2 307.3 415.2 307.7 415.2 308.1 415.2 308.5 415.2 308.8 415.2 309.2 415.2 309.6 415.2 309.9 415.2 310.3 415.2 310.7 415.2 311.0 415.2 311.4 415.2 311.8 416.6 312.1 415.2 312.5 415.2 312.9 415.2 313.3 413.8 313.6 415.2 314.0 415.2 314.4 415.2 314.7 415.2 315.1 415.2 315.5 413.8 315.8 415.2 316.2 415.2 316.6 415.2 316.9 415.2 317.3 415.2 317.7 415.2 318.0 415.2 318.4 415.3 318.8 413.9 319.2 416.7 319.5 413.9 319.9 415.3 320.3 416.7 320.6 415.3 321.0 415.3 321.4 415.3 321.7 415.3 322.1 415.3 322.5 415.3 322.8 415.3 323.2 415.3 323.6 415.3 324.0 415.3 324.3 415.3 324.7 415.3 325.1 415.3 325.4 415.3 325.8 415.3 326.2 415.3 326.5 415.3 326.9 415.3 327.3 415.3 327.6 415.3 328.0 415.3 328.4 415.3 328.8 415.3 329.1 415.3 329.5 415.3 329.9 415.3 330.2 415.3 330.6 415.3 331.0 415.3 331.3 415.4 331.7 415.4 332.1 415.4 332.4 415.4 332.8 415.4 333.2 415.4 333.6 415.4 333.9 415.4 334.3 415.4 334.7 415.4 335.0 415.4 335.4 415.4 335.8 415.4 336.1 414.0 336.5 415.4 336.9 415.4 337.2 415.4 337.6 415.4 338.0 415.4 338.3 415.4 338.7 415.4 339.1 415.4 339.5 415.4 339.8 415.4 340.2 416.8 340.6 415.4 340.9 415.4 341.3 415.4 341.7 415.4 342.0 414.0 342.4 415.4 342.8 415.4 343.1 415.4 343.5 415.4 343.9 415.4 344.3 414.1 344.6 415.5 345.0 415.5 345.4 415.5 345.7 415.5 346.1 415.5 346.5 415.5 346.8 415.5 347.2 415.5 347.6 415.5 347.9 415.5 348.3 415.5 348.7 414.1 349.1 414.1 349.4 415.5 349.8 415.5 350.2 415.5 350.5 415.5 350.9 415.5 351.3 415.5 351.6 415.5 352.0 415.5 352.4 415.5 352.7 415.5 353.1 415.5 353.5 415.5 353.9 415.5 354.2 415.5 354.6 415.5 355.0 415.5 355.3 415.5 355.7 415.5 356.1 415.5 356.4 415.5 356.8 415.5 357.2 415.5 357.5 415.6 357.9 417.0 358.3 415.6 358.7 415.6 359.0 415.6 359.4 417.0 359.8 415.6 360.1 415.6 360.5 415.6 360.9 415.6 361.2 415.6 361.6 415.6 362.0 415.6 362.3 415.6 362.7 415.6 363.1 415.6 363.4 415.6 363.8 415.6 364.2 415.6 364.6 415.6 364.9 414.2 365.3 415.6 365.7 415.6 366.0 415.6 366.4 415.6 366.8 415.6 367.1 415.6 367.5 415.6 367.9 415.6 368.2 415.6 368.6 415.6 369.0 415.6 369.4 415.6 369.7 415.6 370.1 415.6 370.5 415.6 370.8 415.7 371.2 415.7 371.6 415.7 371.9 415.7 372.3 415.7 372.7 415.7 373.0 415.7 373.4 415.7 373.8 415.7 374.2 415.7 374.5 415.7 374.9 415.7 375.3 414.3 375.6 415.7 376.0 415.7 376.4 415.7 376.7 415.7 377.1 415.7 377.5 415.7 377.8 415.7 378.2 415.7 378.6 415.7 379.0 415.7 379.3 415.7 379.7 415.7 380.1 415.7 380.4 415.7 380.8 415.7 381.2 415.7 381.5 415.7 381.9 415.7 382.3 415.7 382.6 415.7 383.0 415.7 383.4 415.7 383.7 414.4 384.1 415.8 384.5 415.8 384.9 415.8 385.2 415.8 385.6 415.8 386.0 415.8 386.3 415.8 386.7 415.8 387.1 415.8 387.4 415.8 387.8 415.8 388.2 415.8 388.5 415.8 388.9 415.8 389.3 415.8 389.7 415.8 390.0 415.8 390.4 415.8 390.8 415.8 391.1 415.8 391.5 415.8 391.9 415.8 392.2 415.8 392.6 415.8 393.0 415.8 393.3 415.8 393.7 417.2 394.1 415.8 394.5 415.8 394.8 415.8 395.2 415.8 395.6 415.8 395.9 414.4 396.3 415.8 396.7 415.8 397.0 417.3 397.4 415.9 397.8 415.9 398.1 415.9 398.5 415.9 398.9 415.9 399.3 415.9 399.6 415.9 400.0 415.9 400.4 415.9 400.7 415.9 401.1 415.9 401.5 417.3 401.8 415.9 402.2 417.3 402.6 415.9 402.9 415.9 403.3 415.9 403.7 415.9 404.0 415.9 404.4 415.9 404.8 415.9 405.2 415.9 405.5 415.9 405.9 415.9 406.3 415.9 406.6 415.9 407.0 415.9 407.4 415.9 407.7 415.9 408.1 415.9 408.5 415.9 408.8 415.9 409.2 415.9 409.6 415.9 410.0 415.9 410.3 416.0 410.7 417.4 411.1 416.0 411.4 416.0 411.8 416.0 412.2 417.4 412.5 416.0 412.9 416.0 413.3 416.0 413.6 416.0 414.0 416.0 414.4 416.0 414.8 416.0 415.1 416.0 415.5 416.0 415.9 416.0 416.2 416.0 416.6 417.4 417.0 416.0 417.3 416.0 417.7 416.0 418.1 416.0 418.4 416.0 418.8 416.0 419.2 416.0 419.6 416.0 419.9 416.0 420.3 416.0 420.7 416.0 421.0 416.0 421.4 414.6 421.8 417.4 422.1 416.0 422.5 416.0 422.9 416.0 423.2 416.0 423.6 416.0 424.0 414.6 424.3 416.0 424.7 416.0 425.1 416.0 425.5 416.0 425.8 414.6 426.2 416.0 426.6 416.0 426.9 416.0 427.3 416.0 427.7 416.0 428.0 416.0 428.4 416.0 428.8 416.0 429.1 416.0 429.5 416.0 429.9 416.0 430.3 416.0 430.6 416.0 431.0 416.0 431.4 416.0 431.7 416.0 432.1 416.0 432.5 416.0 432.8 416.0 433.2 416.0 433.6 416.0 433.9 416.0 434.3 416.0 434.7 416.0 435.1 416.0 435.4 414.6 435.8 416.0 436.2 416.0 436.5 416.0 436.9 416.0 437.3 416.0 437.6 416.0 438.0 416.0 438.4 416.0 438.7 416.0 439.1 416.0 439.5 416.0 439.9 416.0 440.2 416.0 440.6 416.0 441.0 416.0 441.3 416.0 441.7 416.0 442.1 414.6 442.4 416.0 442.8 416.0 443.2 416.0 443.5 416.0 443.9 416.0 444.3 416.0 444.7 416.0 445.0 416.0 445.4 416.0 445.8 416.0 446.1 416.0 446.5 416.0 446.9 416.0 447.2 416.0 447.6 416.0 448.0 416.0 448.3 416.0 448.7 416.0 449.1 416.0 449.4 416.0 449.8 416.0 450.2 416.0 450.6 416.0 450.9 416.0 451.3 416.0 451.7 416.0 452.0 416.0 452.4 416.0 452.8 414.6 453.1 416.0 453.5 416.0 453.9 416.0 454.2 416.0 454.6 416.0 455.0 416.0 455.4 416.0 455.7 416.0 456.1 416.0 456.5 416.0 456.8 416.0 457.2 416.0 457.6 416.0 457.9 416.0 458.3 416.0 458.7 416.0 459.0 416.0 459.4 416.0 459.8 416.0 460.2 416.0 460.5 416.0 460.9 416.0 461.3 416.0 461.6 416.0 462.0 416.0 462.4 416.0 462.7 414.6 463.1 416.0 463.5 416.0 463.8 416.0 464.2 416.0 464.6 416.0 465.0 416.0 465.3 416.0 465.7 416.0 466.1 417.4 466.4 416.0 466.8 416.0 467.2 416.0 467.5 416.0 467.9 416.0 468.3 416.0 468.6 416.0 469.0 416.0 469.4 416.0 469.7 416.0 470.1 416.0 470.5 416.0 470.9 416.0 471.2 416.0 471.6 416.0 472.0 416.0 472.3 416.0 472.7 416.0 473.1 416.0 473.4 416.0 473.8 416.0 474.2 416.0 474.5 416.0 474.9 416.0 475.3 416.0 475.7 416.0 476.0 416.0 476.4 414.6 476.8 416.0 477.1 416.0 477.5 416.0 477.9 416.0 478.2 416.0 478.6 416.0 479.0 416.0 479.3 416.0 479.7 416.0 480.1 416.0 480.5 417.4 480.8 416.0 481.2 416.0 481.6 416.0 481.9 416.0 482.3 416.0 482.7 416.0 483.0 416.0 483.4 416.0 483.8 416.0 484.1 416.0 484.5 416.0 484.9 416.0 485.3 416.0 485.6 416.0 486.0 416.0 486.4 416.0 486.7 416.0 487.1 416.0 487.5 416.0 487.8 417.4 488.2 416.0 488.6 416.0 488.9 416.0 489.3 416.0 489.7 416.0 490.0 416.0 490.4 416.0 490.8 416.0 491.2 416.0 491.5 416.0 491.9 416.0 492.3 416.0 492.6 416.0 493.0 416.0 493.4 416.0 493.7 416.0 494.1 416.0 494.5 416.0 494.8 416.0 495.2 416.0 495.6 416.0 496.0 416.0 496.3 416.0 496.7 416.0 497.1 416.0 497.4 416.0 497.8 417.4 498.2 415.9 498.5 415.9 498.9 417.3 499.3 415.9 499.6 415.9 500.0 415.9 500.4 415.9 500.8 415.9 501.1 415.9 501.5 415.9 501.9 415.9 502.2 415.9 502.6 415.9 503.0 415.9 503.3 415.9 503.7 415.9 504.1 415.9 504.4 415.9 504.8 415.9 505.2 415.9 505.6 415.9 505.9 415.9 506.3 415.9 506.7 415.9 507.0 415.9 507.4 415.9 507.8 415.9 508.1 415.9 508.5 415.8 508.9 415.8 509.2 415.8 509.6 415.8 510.0 415.8 510.4 414.4 510.7 415.7 511.1 415.7 511.5 415.6 511.8 415.6 512.2 415.5 512.6 415.3 512.9 415.2 513.3 415.0 513.7 416.1 514.0 414.3 514.4 413.9 514.8 413.4 515.1 412.2 515.5 413.4 515.9 411.1 516.3 408.4 516.6 407.9 517.0 406.7 517.4 401.4 517.7 399.5 518.1 394.0 518.5 388.7 518.8 388.8 519.2 386.6 519.6 384.5 519.9 385.2 520.3 392.8 520.7 396.9 521.1 399.8 521.4 404.2 521.8 406.4 522.2 408.2 522.5 410.3 522.9 410.9 523.3 410.9 523.6 412.6 524.0 413.4 524.4 413.9 524.7 414.3 525.1 414.7 525.5 415.0 525.9 415.2 526.2 415.3 526.6 415.5 527.0 415.6 527.3 415.6 527.7 415.7 528.1 415.7 528.4 415.8 528.8 417.2 529.2 415.8 529.5 414.4 529.9 415.8 530.3 415.8 530.7 415.8 531.0 415.8 531.4 415.9 531.8 415.9 532.1 415.9 532.5 415.9 532.9 415.9 533.2 415.9 533.6 415.9 534.0 415.9 534.3 415.9 534.7 415.9 535.1 415.9 535.4 417.3 535.8 415.9 536.2 415.9 536.6 415.9 536.9 415.9 537.3 415.9 537.7 415.9 538.0 415.9 538.4 415.9 538.8 415.9 539.1 415.9 539.5 415.9 539.9 415.9 540.2 415.9 540.6 415.9 541.0 415.9 541.4 415.9 541.7 415.9 542.1 415.9 542.5 415.9 542.8 415.9 543.2 415.9 543.6 415.9 543.9 417.3 544.3 415.9 544.7 415.9 545.0 415.9 545.4 415.9 545.8 415.9 546.2 415.9 546.5 415.9 546.9 415.9 547.3 415.9 547.6 415.9 548.0 415.9 548.4 415.9 548.7 415.9 549.1 415.9 549.5 415.9 549.8 415.9 550.2 415.9 550.6 415.9 551.0 415.9 551.3 415.9 551.7 415.9 552.1 415.9 552.4 415.9 552.8 415.9 553.2 415.9 553.5 415.9 553.9 415.9 554.3 415.9 554.6 415.9 555.0 415.9 555.4 415.9 555.7 415.9 556.1 414.5 556.5 415.9 556.9 415.9 557.2 415.9 557.6 415.9 558.0 415.9 558.3 415.8 558.7 415.8 559.1 415.8 559.4 415.8 559.8 415.8 560.2 415.8 560.5 415.8 560.9 415.8 561.3 415.8 561.7 415.8 562.0 415.8 562.4 415.8 562.8 415.8 563.1 415.8 563.5 415.8 563.9 415.8 564.2 415.7 564.6 415.7 565.0 415.7 565.3 415.7 565.7 415.7 566.1 415.7 566.5 415.7 566.8 415.7 567.2 415.6 567.6 415.6 567.9 415.6 568.3 417.0 568.7 415.5 569.0 415.5 569.4 415.5 569.8 415.4 570.1 415.4 570.5 415.3 570.9 413.8 571.3 415.1 571.6 414.9 572.0 414.8 572.4 414.5 572.7 414.2 573.1 413.8 573.5 413.3 573.8 412.9 574.2 412.0 574.6 410.9 574.9 410.5 575.3 407.4 575.7 405.3 576.1 405.6 576.4 401.4 576.8 397.9 577.2 390.9 577.5 381.9 577.9 370.9 578.3 358.9 578.6 343.3 579.0 330.1 579.4 318.5 579.7 314.2 580.1 314.2 580.5 322.6 580.8 328.6 581.2 344.2 581.6 360.5 582.0 372.3 582.3 378.9 582.7 391.1 583.1 396.7 583.4 400.6 583.8 403.8 584.2 405.9 584.5 409.0 584.9 410.1 585.3 411.0 585.6 412.4 586.0 413.0 586.4 413.2 586.8 412.3 587.1 414.1 587.5 414.5 587.9 414.7 588.2 413.5 588.6 415.0 589.0 415.1 589.3 415.2 589.7 415.3 590.1 415.3 590.4 415.4 590.8 415.4 591.2 415.4 591.6 415.5 591.9 415.5 592.3 415.5 592.7 415.5 593.0 415.5 593.4 415.5 593.8 415.5 594.1 415.6 594.5 415.6 594.9 415.6 595.2 415.6 595.6 415.6 596.0 415.6 596.4 415.6 596.7 415.6 597.1 415.6 597.5 415.6 597.8 415.6 598.2 415.6 598.6 415.5 598.9 414.1 599.3 414.1 599.7 415.5 600.0 415.5 600.4 415.5 600.8 415.5 601.1 415.4 601.5 415.4 601.9 415.4 602.3 415.3 602.6 415.3 603.0 415.3 603.4 415.2 603.7 415.1 604.1 415.0 604.5 414.9 604.8 414.7 605.2 414.4 605.6 414.1 605.9 415.1 606.3 413.3 606.7 412.7 607.1 412.2 607.4 411.7 607.8 409.1 608.2 408.1 608.5 405.4 608.9 403.6 609.3 401.6 609.6 396.9 610.0 391.8 610.4 382.5 610.7 370.9 611.1 357.8 611.5 338.6 611.9 322.2 612.2 305.4 612.6 298.0 613.0 295.5 613.3 295.1 613.7 308.1 614.1 319.4 614.4 339.2 614.8 358.1 615.2 369.8 615.5 383.6 615.9 390.7 616.3 397.4 616.7 400.7 617.0 403.0 617.4 407.9 617.8 408.8 618.1 409.4 618.5 411.1 618.9 411.5 619.2 412.5 619.6 413.3 620.0 413.8 620.3 414.2 620.7 414.5 621.1 414.7 621.4 414.9 621.8 415.0 622.2 415.2 622.6 415.2 622.9 415.3 623.3 415.4 623.7 415.4 624.0 415.4 624.4 415.5 624.8 415.5 625.1 415.5 625.5 415.5 625.9 415.6 626.2 415.6 626.6 415.6 627.0 415.6 627.4 417.0 627.7 417.0 628.1 415.6 628.5 415.6 628.8 415.6 629.2 415.6 629.6 415.6 629.9 415.6 630.3 415.6 630.7 415.6 631.0 415.5 631.4 415.5 631.8 415.4 632.2 415.3 632.5 415.1 632.9 415.0 633.3 414.7 633.6 414.5 634.0 414.2 634.4 413.8 634.7 413.4 635.1 413.0 635.5 412.1 635.8 411.8 636.2 409.8 636.6 411.2 637.0 411.7 637.3 410.8 637.7 410.5 638.1 410.0 638.4 409.4 638.8 410.2 639.2 410.1 639.5 410.3 639.9 410.9 640.3 410.8 640.6 411.7 641.0 412.4 641.4 413.0 641.7 413.0 642.1 413.5 642.5 413.9 642.9 414.2 643.2 414.5 643.6 414.8 644.0 415.0 644.3 415.2 644.7 415.4 645.1 415.5 645.4 415.6 645.8 414.3 646.2 415.7 646.5 415.8 646.9 415.8 647.3 414.4 647.7 415.8 648.0 415.9 648.4 415.9 648.8 415.9 649.1 415.9 649.5 415.9 649.9 415.9 650.2 415.9 650.6 415.9 651.0 415.9 651.3 415.9 651.7 415.9 652.1 415.9 652.5 415.9 652.8 415.9 653.2 415.9 653.6 415.9 653.9 415.9 654.3 415.9 654.7 417.3 655.0 415.9 655.4 415.9 655.8 415.9 656.1 415.9 656.5 415.9 656.9 415.9 657.3 415.9 657.6 415.9 658.0 417.3 658.4 417.3 658.7 415.9 659.1 417.3 659.5 415.9 659.8 415.9 660.2 415.9 660.6 415.9 660.9 415.9 661.3 415.9 661.7 416.0 662.1 416.0 662.4 416.0 662.8 416.0 663.2 416.0 663.5 416.0 663.9 414.6 664.3 416.0 664.6 416.0 665.0 416.0 665.4 416.0 665.7 416.0 666.1 416.0 666.5 414.6 666.8 416.0 667.2 416.0 667.6 416.0 668.0 416.0 668.3 416.0 668.7 416.0 669.1 417.4 669.4 416.0 669.8 416.0 670.2 416.0 670.5 416.0 670.9 416.0 671.3 417.4 671.6 416.0 672.0 416.0 672.4 416.0 672.8 416.0 673.1 414.6 673.5 414.6 673.9 416.0 674.2 416.0 674.6 416.0 675.0 416.0 675.3 416.0 675.7 416.0 676.1 417.4 676.4 416.0 676.8 416.0 677.2 414.6 677.6 416.0 677.9 416.0 678.3 416.0 678.7 416.0 679.0 416.0 679.4 416.0 679.8 416.0 680.1 417.4 680.5 417.4 680.9 416.0 681.2 416.0 681.6 416.0 682.0 416.0 682.4 416.0 682.7 416.0 683.1 416.0 683.5 416.0 683.8 416.0 684.2 416.0 684.6 416.0 684.9 416.0 685.3 416.0 685.7 416.0 686.0 416.0 686.4 414.6 686.8 416.0 687.1 416.0 687.5 416.0 687.9 416.0 688.3 416.0 688.6 416.0 689.0 414.6 689.4 416.0 689.7 416.0 690.1 416.0 690.5 416.0 690.8 416.0 691.2 416.0 691.6 416.0 691.9 416.0 692.3 416.0 692.7 416.0 693.1 416.0 693.4 416.0 693.8 416.0 694.2 416.0 694.5 416.0 694.9 416.0 695.3 416.0 695.6 416.0 696.0 416.0 696.4 416.0 696.7 417.4 697.1 416.0 697.5 416.0 697.9 416.0 698.2 416.0 698.6 416.0 699.0 416.0 699.3 416.0 699.7 416.0 700.1 416.0 700.4 416.0 700.8 416.0 701.2 416.0 701.5 416.0 701.9 416.0 702.3 416.0 702.7 416.0 703.0 416.0 703.4 416.0 703.8 416.0 704.1 416.0 704.5 416.0 704.9 416.0 705.2 416.0 705.6 416.0 706.0 416.0 706.3 416.0 706.7 416.0 707.1 416.0 707.4 416.0 707.8 416.0 708.2 417.4 708.6 416.0 708.9 416.0 709.3 416.0 709.7 416.0 710.0 416.0 710.4 416.0 710.8 416.0 711.1 416.0 711.5 416.0 711.9 416.0 712.2 416.0 712.6 416.0 713.0 416.0 713.4 416.0 713.7 416.0 714.1 416.0 714.5 416.0 714.8 416.0 715.2 417.4 715.6 416.0 715.9 416.0 716.3 416.0 716.7 416.0 717.0 416.0 717.4 416.0 717.8 416.0 718.2 414.6 718.5 416.0 718.9 417.4 719.3 416.0 719.6 416.0 720.0 416.0 720.4 416.0 720.7 416.0 721.1 416.0 721.5 416.0 721.8 416.0 722.2 416.0 722.6 416.0 723.0 414.6 723.3 416.0 723.7 416.0 724.1 416.0 724.4 416.0 724.8 416.0 725.2 416.0 725.5 416.0 725.9 416.0 726.3 417.4 726.6 416.0 727.0 416.0 727.4 416.0 727.8 416.0 728.1 416.0 728.5 416.0 728.9 416.0 729.2 416.0 729.6 416.0 730.0 416.0 730.3 416.0 730.7 416.0 731.1 416.0 731.4 416.0 731.8 416.0 732.2 416.0 732.5 414.6 732.9 416.0 733.3 416.0 733.7 417.4 734.0 416.0 734.4 416.0 734.8 416.0 735.1 417.4 735.5 416.0 735.9 416.0 736.2 416.0 736.6 416.0 737.0 416.0 737.3 416.0 737.7 416.0 738.1 417.4 738.5 414.6 738.8 416.0 739.2 416.0 739.6 416.0 739.9 417.4 740.3 416.0 740.7 416.0 741.0 416.0 741.4 416.0 741.8 416.0 742.1 416.0 742.5 416.0 742.9 416.0 743.3 416.0 743.6 416.0 744.0 417.4 744.4 416.0 744.7 416.0 745.1 416.0 745.5 416.0 745.8 416.0 746.2 416.0 746.6 416.0 746.9 416.0 747.3 416.0 747.7 416.0 748.1 416.0 748.4 416.0 748.8 414.6 749.2 416.0 749.5 416.0 749.9 416.0 750.3 416.0 750.6 416.0 751.0 416.0 751.4 417.4 751.7 416.0 752.1 416.0 752.5 416.0 752.8 416.0 753.2 416.0 753.6 414.6 754.0 416.0 754.3 416.0 754.7 416.0 755.1 416.0 755.4 416.0 755.8 416.0 756.2 416.0 756.5 416.0 756.9 416.0 757.3 416.0 757.6 416.0 758.0 416.0 758.4 416.0 758.8 416.0 759.1 416.0 759.5 416.0 759.9 416.0 760.2 416.0 760.6 417.4 761.0 416.0 761.3 416.0 761.7 416.0 762.1 416.0 762.4 416.0 762.8 416.0 763.2 416.0 763.6 416.0 763.9 416.0 764.3 416.0 764.7 416.0 765.0 416.0 765.4 416.0 765.8 416.0 766.1 416.0 766.5 416.0 766.9 416.0 767.2 414.6 767.6 416.0 768.0 414.6 768.4 416.0 768.7 416.0 769.1 416.0 769.5 416.0 769.8 416.0 770.2 416.0 770.6 416.0 770.9 416.0 771.3 416.0 771.7 416.0 772.0 416.0 772.4 416.0 772.8 416.0 773.1 416.0 773.5 416.0 773.9 416.0 774.3 416.0 774.6 416.0 775.0 416.0 775.4 416.0 775.7 416.0 776.1 416.0 776.5 414.6 776.8 416.0 777.2 416.0 777.6 416.0 777.9 416.0 778.3 416.0 778.7 416.0 779.1 416.0 779.4 416.0 779.8 416.0 780.2 416.0 780.5 416.0 780.9 417.4 781.3 416.0 781.6 416.0 782.0 416.0 782.4 414.6 782.7 416.0 783.1 416.0 783.5 416.0 783.9 416.0 784.2 416.0 784.6 416.0 785.0 416.0 785.3 416.0 785.7 416.0 786.1 416.0 786.4 416.0 786.8 416.0 787.2 416.0 787.5 416.0 787.9 416.0 788.3 416.0 788.7 416.0 789.0 416.0 789.4 416.0 789.8 417.4 790.1 416.0 790.5 416.0 790.9 416.0 791.2 416.0 791.6 417.4 792.0 416.0 792.3 416.0 792.7 416.0 793.1 416.0 793.4 416.0 793.8 416.0 794.2 416.0 794.6 416.0 794.9 416.0 795.3 416.0 795.7 416.0 796.0 416.0 796.4 416.0 796.8 416.0 797.1 417.4 797.5 416.0 797.9 416.0 798.2 416.0 798.6 416.0 799.0 416.0 799.4 416.0 799.7 416.0 800.1 416.0 800.5 414.6 800.8 416.0 801.2 416.0 801.6 416.0 801.9 416.0 802.3 416.0 802.7 416.0 803.0 416.0 803.4 416.0 803.8 416.0 804.2 416.0 804.5 416.0 804.9 416.0 805.3 416.0 805.6 416.0 806.0 416.0 806.4 416.0 806.7 416.0 807.1 416.0 807.5 417.4 807.8 417.4 808.2 416.0 808.6 416.0 809.0 416.0 809.3 416.0 809.7 416.0 810.1 416.0 810.4 416.0 810.8 416.0 811.2 416.0 811.5 416.0 811.9 416.0 812.3 416.0 812.6 416.0 813.0 416.0 813.4 416.0 813.8 416.0 814.1 416.0 814.5 416.0 814.9 416.0 815.2 416.0 815.6 416.0 816.0 416.0 816.3 416.0 816.7 417.4 817.1 416.0 817.4 416.0 817.8 416.0 818.2 416.0 818.5 416.0 818.9 416.0 819.3 416.0 819.7 416.0 820.0 416.0 820.4 416.0 820.8 416.0 821.1 416.0 821.5 416.0 821.9 416.0 822.2 416.0 822.6 416.0 823.0 416.0 823.3 414.6 823.7 414.6 824.1 416.0 824.5 414.6 824.8 416.0 825.2 416.0 825.6 416.0 825.9 416.0 826.3 416.0 826.7 416.0 827.0 416.0 827.4 416.0 827.8 416.0 828.1 416.0 828.5 416.0 828.9 416.0 829.3 416.0 829.6 416.0 830.0 414.6 830.4 416.0 830.7 416.0 831.1 416.0 831.5 416.0 831.8 415.9 832.2 415.9 832.6 414.5 832.9 415.9 833.3 415.9 833.7 414.5 834.1 415.9 834.4 415.9 834.8 415.9 835.2 415.9 835.5 415.9 835.9 415.9 836.3 415.9 836.6 415.9 837.0 415.9 837.4 415.9 837.7 415.9 838.1 415.9 838.5 415.9 838.8 415.9 839.2 415.8 839.6 415.8 840.0 417.2 840.3 415.8 840.7 415.7 841.1 415.7 841.4 415.6 841.8 415.6 842.2 415.5 842.5 415.4 842.9 415.2 843.3 415.0 843.6 414.8 844.0 414.6 844.4 415.7 844.8 413.9 845.1 413.5 845.5 412.7 845.9 413.8 846.2 410.6 846.6 410.0 847.0 409.0 847.3 406.3 847.7 403.2 848.1 402.7 848.4 400.2 848.8 395.6 849.2 394.0 849.6 394.1 849.9 394.7 850.3 395.5 850.7 398.2 851.0 401.3 851.4 402.8 851.8 404.8 852.1 405.3 852.5 408.9 852.9 409.1 853.2 412.2 853.6 412.0 854.0 413.2 854.4 413.5 854.7 413.9 855.1 414.3 855.5 414.6 855.8 414.8 856.2 415.0 856.6 415.2 856.9 415.4 857.3 415.5 857.7 415.6 858.0 415.6 858.4 415.7 858.8 415.7 859.1 415.8 859.5 415.8 859.9 415.8 860.3 415.8 860.6 415.9 861.0 415.9 861.4 415.9 861.7 415.9 862.1 415.9 862.5 415.9 862.8 415.9 863.2 415.9 863.6 415.9 863.9 415.9 864.3 415.9 864.7 415.9 865.1 415.9 865.4 415.9 865.8 415.9 866.2 414.5 866.5 415.9 866.9 415.9 867.3 415.9 867.6 415.9 868.0 416.0 868.4 416.0 868.7 416.0 869.1 416.0 869.5 416.0 869.9 416.0 870.2 416.0 870.6 417.4 871.0 416.0 871.3 416.0 871.7 416.0 872.1 414.6 872.4 416.0 872.8 416.0 873.2 416.0 873.5 414.6 873.9 416.0 874.3 417.4 874.7 416.0 875.0 416.0 875.4 416.0 875.8 416.0 876.1 416.0 876.5 416.0 876.9 416.0 877.2 416.0 877.6 416.0 878.0 414.6 878.3 416.0 878.7 417.4 879.1 416.0 879.5 416.0 879.8 416.0 880.2 416.0 880.6 416.0 880.9 416.0 881.3 416.0 881.7 417.4 882.0 416.0 882.4 416.0 882.8 416.0 883.1 416.0 883.5 416.0 883.9 416.0 884.2 416.0 884.6 416.0 885.0 416.0 885.4 416.0 885.7 416.0 886.1 416.0 886.5 416.0 886.8 416.0 887.2 416.0 887.6 416.0 887.9 416.0 888.3 416.0 888.7 416.0 889.0 416.0 889.4 416.0 889.8 416.0 890.2 414.6 890.5 416.0 890.9 416.0 891.3 416.0 891.6 416.0 892.0 416.0 892.4 416.0 892.7 416.0 893.1 414.6 893.5 416.0 893.8 416.0 894.2 416.0 894.6 416.0 895.0 416.0 895.3 416.0 895.7 416.0 896.1 416.0 896.4 416.0 896.8 417.4 897.2 414.6 897.5 416.0 897.9 416.0 898.3 416.0 898.6 416.0 899.0 414.6 899.4 416.0 899.8 414.6 900.1 416.0 900.5 416.0 900.9 416.0 901.2 416.0 901.6 416.0 902.0 416.0 902.3 416.0 902.7 414.6 903.1 416.0 903.4 416.0 903.8 416.0 904.2 416.0 904.5 416.0 904.9 416.0 905.3 416.0 905.7 416.0 906.0 416.0 906.4 416.0 906.8 414.6 907.1 416.0 907.5 416.0 907.9 416.0 908.2 417.4 908.6 416.0 909.0 416.0 909.3 416.0 909.7 416.0 910.1 416.0 910.5 416.0 910.8 416.0 911.2 416.0 911.6 416.0 911.9 416.0 912.3 416.0 912.7 416.0 913.0 416.0 913.4 416.0 913.8 416.0 914.1 416.0 914.5 416.0 914.9 416.0 915.3 416.0 915.6 416.0 916.0 416.0 916.4 416.0 916.7 416.0 917.1 414.6 917.5 416.0 917.8 416.0 918.2 416.0 918.6 416.0 918.9 416.0 919.3 416.0 919.7 416.0 920.1 416.0 920.4 416.0 920.8 416.0 921.2 416.0 921.5 417.4 921.9 416.0 922.3 416.0 922.6 416.0 923.0 416.0 923.4 416.0 923.7 416.0 924.1 416.0 924.5 416.0 924.8 416.0 925.2 416.0 925.6 416.0 926.0 416.0 926.3 416.0 926.7 416.0 927.1 416.0 927.4 416.0 927.8 416.0 928.2 416.0 928.5 416.0 928.9 416.0 929.3 417.4 929.6 416.0 930.0 416.0 930.4 416.0 930.8 414.6 931.1 416.0 931.5 416.0 931.9 416.0 932.2 417.4 932.6 416.0 933.0 416.0 933.3 416.0 933.7 416.0 934.1 416.0 934.4 414.6 934.8 416.0 935.2 416.0 935.6 417.4 935.9 416.0 936.3 416.0 936.7 416.0 937.0 416.0 937.4 416.0 937.8 416.0 938.1 416.0 938.5 416.0 938.9 416.0 939.2 416.0 939.6 416.0 940.0 416.0 940.4 416.0 940.7 416.0 941.1 416.0 941.5 416.0 941.8 416.0 942.2 416.0 942.6 416.0 942.9 416.0 943.3 416.0 943.7 416.0 944.0 416.0 944.4 416.0 944.8 416.0 945.2 416.0 945.5 416.0 945.9 417.4 946.3 416.0 946.6 416.0 947.0 416.0 947.4 416.0 947.7 414.6 948.1 416.0 948.5 416.0 948.8 416.0 949.2 416.0 949.6 416.0 949.9 416.0 950.3 416.0 950.7 416.0 951.1 416.0 951.4 416.0 951.8 416.0 952.2 416.0 952.5 416.0 952.9 416.0 953.3 416.0 953.6 416.0 954.0 414.6 954.4 416.0 954.7 416.0 955.1 416.0 955.5 416.0 955.9 417.4 956.2 416.0 956.6 416.0 957.0 416.0 957.3 416.0 957.7 416.0 958.1 416.0 958.4 416.0 958.8 416.0 959.2 416.0 959.5 416.0 959.9 414.6 960.3 416.0 960.7 416.0 961.0 416.0 961.4 414.6 961.8 416.0 962.1 416.0 962.5 416.0 962.9 416.0 963.2 416.0 963.6 416.0 964.0 416.0 964.3 416.0 964.7 416.0 965.1 416.0 965.5 416.0 965.8 416.0 966.2 417.4 966.6 416.0 966.9 416.0 967.3 416.0 967.7 416.0 968.0 416.0 968.4 416.0 968.8 416.0 969.1 416.0 969.5 416.0 969.9 414.6 970.2 416.0 970.6 416.0 971.0 416.0 971.4 416.0 971.7 416.0 972.1 416.0 972.5 416.0 972.8 416.0 973.2 416.0 973.6 416.0 973.9 416.0 974.3 416.0 974.7 416.0 975.0 416.0 975.4 417.4 975.8 416.0 976.2 416.0 976.5 416.0 976.9 416.0 977.3 417.4 977.6 416.0 978.0 416.0" stroke="#0000ff" stroke-width="1.6" fill="none" marker-mid="url(#mb)"/>
<path d="M55.2 581.6 55.6 581.6 56.0 582.4 56.4 581.6 56.7 580.8 57.1 581.6 57.5 581.6 57.8 581.6 58.2 580.8 58.6 581.6 58.9 581.6 59.3 582.4 59.7 581.6 60.0 581.6 60.4 580.8 60.8 582.4 61.2 580.8 61.5 581.6 61.9 581.7 62.3 581.7 62.6 581.7 63.0 581.7 63.4 581.7 63.7 581.7 64.1 582.5 64.5 580.9 64.8 581.7 65.2 581.7 65.6 581.7 66.0 580.9 66.3 581.7 66.7 581.7 67.1 580.9 67.4 581.7 67.8 581.7 68.2 581.7 68.5 581.7 68.9 581.7 69.3 581.7 69.6 581.7 70.0 581.7 70.4 581.7 70.8 581.7 71.1 581.7 71.5 581.7 71.9 581.7 72.2 581.7 72.6 581.7 73.0 582.5 73.3 581.7 73.7 581.7 74.1 581.7 74.4 581.7 74.8 581.7 75.2 581.7 75.6 581.8 75.9 581.0 76.3 582.6 76.7 581.8 77.0 581.8 77.4 581.8 77.8 581.8 78.1 581.8 78.5 581.8 78.9 581.8 79.2 581.8 79.6 581.8 80.0 582.6 80.3 581.8 80.7 581.0 81.1 582.6 81.5 581.8 81.8 581.0 82.2 582.6 82.6 581.8 82.9 581.8 83.3 581.8 83.7 581.8 84.0 581.0 84.4 581.0 84.8 581.8 85.1 581.8 85.5 581.8 85.9 582.6 86.3 581.8 86.6 581.8 87.0 581.8 87.4 581.8 87.7 581.0 88.1 581.0 88.5 581.8 88.8 581.1 89.2 581.9 89.6 581.9 89.9 582.7 90.3 581.9 90.7 581.9 91.1 581.9 91.4 581.9 91.8 581.9 92.2 581.9 92.5 581.9 92.9 581.9 93.3 581.9 93.6 581.9 94.0 581.9 94.4 581.9 94.7 581.9 95.1 581.1 95.5 582.7 95.9 581.9 96.2 581.9 96.6 581.9 97.0 581.9 97.3 581.9 97.7 582.7 98.1 581.9 98.4 581.9 98.8 581.9 99.2 581.1 99.5 582.7 99.9 581.9 100.3 581.9 100.6 582.7 101.0 582.7 101.4 581.9 101.8 581.9 102.1 582.0 102.5 582.8 102.9 582.0 103.2 582.0 103.6 582.8 104.0 582.0 104.3 582.0 104.7 582.0 105.1 582.0 105.4 582.0 105.8 581.2 106.2 582.0 106.6 582.8 106.9 582.0 107.3 582.8 107.7 582.0 108.0 582.0 108.4 582.0 108.8 582.0 109.1 582.0 109.5 582.0 109.9 582.0 110.2 582.0 110.6 582.0 111.0 582.0 111.4 582.0 111.7 582.0 112.1 582.0 112.5 582.0 112.8 582.0 113.2 582.0 113.6 582.0 113.9 582.0 114.3 582.0 114.7 582.0 115.0 582.0 115.4 582.0 115.8 582.9 116.2 582.1 116.5 581.3 116.9 582.1 117.3 582.9 117.6 582.1 118.0 582.1 118.4 582.1 118.7 582.9 119.1 582.1 119.5 582.1 119.8 582.1 120.2 582.9 120.6 582.1 120.9 581.3 121.3 582.1 121.7 582.1 122.1 582.1 122.4 582.1 122.8 582.1 123.2 581.3 123.5 582.9 123.9 582.1 124.3 582.1 124.6 582.1 125.0 582.1 125.4 581.3 125.7 582.1 126.1 582.1 126.5 582.1 126.9 582.1 127.2 582.1 127.6 582.1 128.0 582.9 128.3 582.1 128.7 582.1 129.1 582.2 129.4 582.2 129.8 583.0 130.2 581.4 130.5 583.0 130.9 581.4 131.3 582.2 131.7 582.2 132.0 581.4 132.4 581.4 132.8 582.2 133.1 582.2 133.5 582.2 133.9 583.0 134.2 582.2 134.6 583.0 135.0 582.2 135.3 582.2 135.7 582.2 136.1 582.2 136.5 583.0 136.8 583.0 137.2 582.2 137.6 582.2 137.9 581.4 138.3 582.2 138.7 582.2 139.0 582.2 139.4 582.2 139.8 582.2 140.1 582.2 140.5 581.4 140.9 582.2 141.3 582.2 141.6 582.2 142.0 582.2 142.4 583.1 142.7 582.3 143.1 582.3 143.5 581.5 143.8 582.3 144.2 582.3 144.6 582.3 144.9 582.3 145.3 582.3 145.7 582.3 146.0 583.1 146.4 582.3 146.8 582.3 147.2 582.3 147.5 582.3 147.9 582.3 148.3 583.1 148.6 582.3 149.0 583.1 149.4 582.3 149.7 582.3 150.1 582.3 150.5 583.1 150.8 582.3 151.2 582.3 151.6 582.3 152.0 582.3 152.3 582.3 152.7 582.3 153.1 582.3 153.4 583.1 153.8 582.3 154.2 582.3 154.5 582.3 154.9 582.3 155.3 582.3 155.6 582.3 156.0 582.4 156.4 582.4 156.8 582.4 157.1 583.2 157.5 582.4 157.9 582.4 158.2 582.4 158.6 582.4 159.0 582.4 159.3 583.2 159.7 582.4 160.1 582.4 160.4 582.4 160.8 582.4 161.2 582.4 161.6 582.4 161.9 582.4 162.3 582.4 162.7 582.4 163.0 583.2 163.4 583.2 163.8 583.2 164.1 582.4 164.5 582.4 164.9 582.4 165.2 581.6 165.6 583.2 166.0 582.4 166.3 582.4 166.7 582.4 167.1 582.4 167.5 583.2 167.8 582.4 168.2 582.4 168.6 582.4 168.9 582.4 169.3 582.5 169.7 582.5 170.0 581.7 170.4 582.5 170.8 581.7 171.1 582.5 171.5 582.5 171.9 582.5 172.3 582.5 172.6 582.5 173.0 581.7 173.4 582.5 173.7 583.3 174.1 582.5 174.5 582.5 174.8 582.5 175.2 582.5 175.6 582.5 175.9 582.5 176.3 582.5 176.7 582.5 177.1 582.5 177.4 583.3 177.8 582.5 178.2 582.5 178.5 582.5 178.9 582.5 179.3 582.5 179.6 582.5 180.0 582.5 180.4 581.7 180.7 582.5 181.1 583.3 181.5 582.5 181.9 582.5 182.2 583.3 182.6 582.5 183.0 582.6 183.3 582.6 183.7 583.4 184.1 582.6 184.4 582.6 184.8 582.6 185.2 582.6 185.5 582.6 185.9 582.6 186.3 582.6 186.6 582.6 187.0 581.8 187.4 582.6 187.8 582.6 188.1 582.6 188.5 582.6 188.9 582.6 189.2 582.6 189.6 582.6 190.0 581.8 190.3 583.4 190.7 582.6 191.1 582.6 191.4 582.6 191.8 581.8 192.2 582.6 192.6 582.6 192.9 582.6 193.3 582.6 193.7 581.8 194.0 582.6 194.4 582.6 194.8 581.8 195.1 581.8 195.5 582.6 195.9 582.6 196.2 582.7 196.6 582.7 197.0 582.7 197.4 581.9 197.7 582.7 198.1 581.9 198.5 581.9 198.8 581.9 199.2 582.7 199.6 582.7 199.9 583.5 200.3 581.9 200.7 582.7 201.0 582.7 201.4 582.7 201.8 582.7 202.2 582.7 202.5 582.7 202.9 581.9 203.3 582.7 203.6 583.5 204.0 582.7 204.4 583.5 204.7 582.7 205.1 582.7 205.5 582.7 205.8 582.7 206.2 582.7 206.6 582.7 207.0 583.5 207.3 582.7 207.7 582.7 208.1 581.9 208.4 582.7 208.8 582.7 209.2 582.7 209.5 582.8 209.9 583.6 210.3 582.8 210.6 582.8 211.0 582.0 211.4 582.8 211.7 582.8 212.1 582.8 212.5 582.8 212.9 582.8 213.2 582.8 213.6 582.8 214.0 583.6 214.3 582.0 214.7 583.6 215.1 583.6 215.4 582.8 215.8 582.8 216.2 582.0 216.5 582.8 216.9 582.8 217.3 582.8 217.7 582.8 218.0 582.8 218.4 582.8 218.8 582.8 219.1 582.8 219.5 582.8 219.9 582.0 220.2 582.8 220.6 582.8 221.0 582.0 221.3 582.8 221.7 582.8 222.1 582.0 222.5 582.0 222.8 582.8 223.2 582.8 223.6 582.8 223.9 582.0 224.3 582.8 224.7 582.8 225.0 582.8 225.4 582.8 225.8 582.0 226.1 582.8 226.5 583.6 226.9 582.8 227.3 582.8 227.6 582.8 228.0 582.8 228.4 582.8 228.7 582.8 229.1 582.8 229.5 582.8 229.8 582.8 230.2 583.6 230.6 582.8 230.9 582.8 231.3 582.8 231.7 583.6 232.0 583.6 232.4 582.0 232.8 582.8 233.2 582.8 233.5 582.8 233.9 583.6 234.3 582.8 234.6 582.8 235.0 582.8 235.4 582.0 235.7 582.8 236.1 582.8 236.5 582.8 236.8 582.8 237.2 582.0 237.6 582.8 238.0 582.8 238.3 582.8 238.7 582.8 239.1 582.8 239.4 582.8 239.8 582.0 240.2 582.8 240.5 582.8 240.9 582.8 241.3 583.6 241.6 582.8 242.0 582.9 242.4 582.9 242.8 582.9 243.1 582.9 243.5 582.9 243.9 582.9 244.2 582.9 244.6 582.9 245.0 582.9 245.3 582.9 245.7 583.7 246.1 583.7 246.4 582.9 246.8 582.9 247.2 582.9 247.6 582.9 247.9 582.9 248.3 582.9 248.7 582.9 249.0 582.9 249.4 583.7 249.8 582.9 250.1 582.9 250.5 582.9 250.9 582.9 251.2 582.9 251.6 582.9 252.0 582.9 252.3 582.9 252.7 582.9 253.1 582.9 253.5 582.9 253.8 582.9 254.2 582.1 254.6 582.9 254.9 582.1 255.3 582.9 255.7 582.9 256.0 583.7 256.4 582.1 256.8 583.7 257.1 582.9 257.5 582.9 257.9 582.9 258.3 582.9 258.6 582.9 259.0 582.9 259.4 582.9 259.7 582.9 260.1 582.9 260.5 582.9 260.8 582.1 261.2 583.7 261.6 582.9 261.9 582.1 262.3 582.9 262.7 583.7 263.1 583.7 263.4 582.9 263.8 582.1 264.2 582.9 264.5 582.9 264.9 582.9 265.3 582.9 265.6 582.9 266.0 582.9 266.4 582.9 266.7 582.9 267.1 582.9 267.5 583.7 267.9 582.9 268.2 582.9 268.6 582.1 269.0 583.7 269.3 582.9 269.7 582.9 270.1 582.1 270.4 582.9 270.8 582.9 271.2 583.7 271.5 582.9 271.9 582.9 272.3 582.9 272.6 583.7 273.0 582.9 273.4 582.9 273.8 582.1 274.1 582.9 274.5 582.9 274.9 582.9 275.2 582.9 275.6 582.9 276.0 582.9 276.3 583.7 276.7 582.9 277.1 583.7 277.4 583.7 277.8 582.1 278.2 582.9 278.6 582.9 278.9 582.1 279.3 582.9 279.7 582.9 280.0 582.9 280.4 582.9 280.8 582.9 281.1 582.9 281.5 582.9 281.9 582.9 282.2 582.9 282.6 582.9 283.0 582.9 283.4 582.1 283.7 583.7 284.1 582.9 284.5 582.9 284.8 582.9 285.2 582.1 285.6 583.7 285.9 582.9 286.3 582.9 286.7 582.9 287.0 583.7 287.4 582.9 287.8 582.1 288.2 582.9 288.5 582.1 288.9 582.9 289.3 582.9 289.6 583.7 290.0 582.9 290.4 582.9 290.7 582.9 291.1 582.9 291.5 582.9 291.8 582.9 292.2 582.1 292.6 583.0 293.0 582.2 293.3 583.0 293.7 583.0 294.1 582.2 294.4 583.0 294.8 583.0 295.2 583.0 295.5 583.0 295.9 583.0 296.3 583.0 296.6 582.2 297.0 583.0 297.4 583.8 297.7 583.0 298.1 583.8 298.5 583.0 298.9 583.0 299.2 583.8 299.6 583.0 300.0 583.0 300.3 583.0 300.7 583.0 301.1 583.8 301.4 583.0 301.8 583.0 302.2 582.2 302.5 583.0 302.9 583.0 303.3 583.0 303.7 583.0 304.0 583.0 304.4 583.0 304.8 582.2 305.1 583.0 305.5 583.0 305.9 582.2 306.2 583.0 306.6 583.8 307.0 583.0 307.3 583.0 307.7 583.0 308.1 583.0 308.5 583.0 308.8 583.0 309.2 583.0 309.6 583.0 309.9 583.0 310.3 583.0 310.7 583.0 311.0 583.0 311.4 583.8 311.8 583.0 312.1 583.0 312.5 583.0 312.9 583.0 313.3 583.0 313.6 583.0 314.0 582.2 314.4 583.0 314.7 583.0 315.1 583.0 315.5 583.0 315.8 583.0 316.2 583.8 316.6 583.8 316.9 583.0 317.3 583.0 317.7 583.0 318.0 583.0 318.4 583.0 318.8 583.8 319.2 583.0 319.5 582.2 319.9 583.0 320.3 583.0 320.6 583.0 321.0 583.0 321.4 582.2 321.7 582.2 322.1 583.0 322.5 583.0 322.8 583.0 323.2 583.0 323.6 583.0 324.0 583.0 324.3 583.0 324.7 583.0 325.1 583.0 325.4 582.2 325.8 583.8 326.2 583.0 326.5 583.0 326.9 583.0 327.3 582.2 327.6 583.0 328.0 583.0 328.4 582.2 328.8 583.8 329.1 583.0 329.5 583.0 329.9 583.0 330.2 583.8 330.6 582.2 331.0 583.0 331.3 583.0 331.7 583.0 332.1 582.2 332.4 583.0 332.8 583.0 333.2 583.0 333.6 583.0 333.9 583.0 334.3 583.0 334.7 583.0 335.0 583.0 335.4 583.0 335.8 583.0 336.1 583.0 336.5 583.0 336.9 583.0 337.2 583.0 337.6 582.2 338.0 583.0 338.3 583.0 338.7 583.0 339.1 583.0 339.5 582.2 339.8 583.8 340.2 583.0 340.6 583.0 340.9 583.8 341.3 583.0 341.7 583.0 342.0 582.2 342.4 583.0 342.8 583.8 343.1 583.1 343.5 582.3 343.9 583.9 344.3 583.9 344.6 583.1 345.0 583.1 345.4 582.3 345.7 583.1 346.1 583.1 346.5 583.1 346.8 583.1 347.2 583.1 347.6 582.3 347.9 583.1 348.3 582.3 348.7 583.9 349.1 582.3 349.4 583.1 349.8 583.1 350.2 583.1 350.5 583.1 350.9 583.1 351.3 583.1 351.6 583.1 352.0 583.1 352.4 583.1 352.7 582.3 353.1 583.1 353.5 583.1 353.9 583.1 354.2 583.1 354.6 583.1 355.0 583.1 355.3 583.1 355.7 583.1 356.1 583.9 356.4 583.1 356.8 583.1 357.2 582.3 357.5 583.1 357.9 583.1 358.3 583.1 358.7 583.1 359.0 583.9 359.4 583.1 359.8 583.1 360.1 583.1 360.5 583.1 360.9 583.9 361.2 583.1 361.6 583.1 362.0 583.1 362.3 583.1 362.7 583.1 363.1 583.1 363.4 582.3 363.8 583.1 364.2 583.1 364.6 583.1 364.9 583.1 365.3 583.1 365.7 582.3 366.0 583.9 366.4 583.1 366.8 583.9 367.1 583.9 367.5 583.1 367.9 583.1 368.2 583.1 368.6 583.1 369.0 583.1 369.4 583.1 369.7 583.1 370.1 583.1 370.5 583.1 370.8 583.1 371.2 583.1 371.6 583.1 371.9 583.1 372.3 582.3 372.7 583.1 373.0 583.1 373.4 583.1 373.8 583.1 374.2 583.1 374.5 583.1 374.9 583.1 375.3 583.1 375.6 583.1 376.0 583.1 376.4 583.1 376.7 583.9 377.1 582.3 377.5 583.1 377.8 582.3 378.2 583.1 378.6 583.1 379.0 583.1 379.3 583.9 379.7 583.1 380.1 583.1 380.4 583.1 380.8 583.1 381.2 583.1 381.5 583.1 381.9 583.1 382.3 583.1 382.6 583.1 383.0 583.1 383.4 583.1 383.7 583.1 384.1 582.3 384.5 582.3 384.9 583.1 385.2 582.3 385.6 583.1 386.0 583.1 386.3 582.3 386.7 583.1 387.1 583.1 387.4 583.1 387.8 583.1 388.2 583.9 388.5 583.9 388.9 582.3 389.3 583.1 389.7 583.1 390.0 582.3 390.4 583.1 390.8 583.1 391.1 583.1 391.5 583.1 391.9 583.9 392.2 583.1 392.6 583.1 393.0 583.9 393.3 583.1 393.7 583.1 394.1 583.1 394.5 583.2 394.8 583.2 395.2 583.2 395.6 583.2 395.9 583.2 396.3 582.4 396.7 583.2 397.0 583.2 397.4 583.2 397.8 582.4 398.1 583.2 398.5 583.2 398.9 583.2 399.3 582.4 399.6 584.0 400.0 582.4 400.4 583.2 400.7 584.0 401.1 583.2 401.5 583.2 401.8 583.2 402.2 584.0 402.6 583.2 402.9 583.2 403.3 584.0 403.7 582.4 404.0 583.2 404.4 583.2 404.8 583.2 405.2 583.2 405.5 583.2 405.9 582.4 406.3 583.2 406.6 584.0 407.0 583.2 407.4 583.2 407.7 583.2 408.1 583.2 408.5 583.2 408.8 583.2 409.2 583.2 409.6 584.0 410.0 584.0 410.3 583.2 410.7 583.2 411.1 583.2 411.4 582.4 411.8 584.0 412.2 583.2 412.5 582.4 412.9 583.2 413.3 584.0 413.6 583.2 414.0 583.2 414.4 583.2 414.8 583.2 415.1 582.4 415.5 583.2 415.9 583.2 416.2 583.2 416.6 583.2 417.0 584.0 417.3 583.2 417.7 583.2 418.1 583.2 418.4 582.4 418.8 584.0 419.2 583.2 419.6 584.0 419.9 583.2 420.3 582.4 420.7 584.0 421.0 582.4 421.4 583.2 421.8 583.2 422.1 583.2 422.5 583.2 422.9 583.2 423.2 582.4 423.6 583.2 424.0 582.4 424.3 583.2 424.7 583.2 425.1 582.4 425.5 583.2 425.8 582.4 426.2 583.2 426.6 583.2 426.9 583.2 427.3 583.2 427.7 583.2 428.0 583.2 428.4 584.0 428.8 583.2 429.1 583.2 429.5 583.2 429.9 583.2 430.3 583.2 430.6 583.2 431.0 583.2 431.4 583.2 431.7 583.2 432.1 583.2 432.5 583.2 432.8 583.2 433.2 582.4 433.6 583.2 433.9 583.2 434.3 584.0 434.7 582.4 435.1 583.2 435.4 583.2 435.8 582.4 436.2 583.2 436.5 583.2 436.9 582.4 437.3 582.4 437.6 583.2 438.0 582.4 438.4 583.2 438.7 583.2 439.1 583.2 439.5 583.2 439.9 584.0 440.2 583.2 440.6 584.0 441.0 583.2 441.3 583.2 441.7 582.4 442.1 583.2 442.4 583.2 442.8 583.2 443.2 584.0 443.5 583.2 443.9 583.2 444.3 583.2 444.7 582.4 445.0 583.2 445.4 583.2 445.8 583.2 446.1 583.2 446.5 583.2 446.9 583.2 447.2 584.0 447.6 582.4 448.0 583.2 448.3 584.0 448.7 583.2 449.1 583.2 449.4 584.0 449.8 583.2 450.2 584.0 450.6 583.2 450.9 583.2 451.3 583.2 451.7 582.4 452.0 583.2 452.4 583.2 452.8 583.2 453.1 583.2 453.5 584.0 453.9 583.2 454.2 583.2 454.6 584.0 455.0 583.2 455.4 583.2 455.7 583.3 456.1 583.3 456.5 584.1 456.8 583.3 457.2 582.5 457.6 583.3 457.9 583.3 458.3 583.3 458.7 583.3 459.0 583.3 459.4 582.5 459.8 583.3 460.2 584.1 460.5 583.3 460.9 582.5 461.3 583.3 461.6 583.3 462.0 581.7 462.4 583.3 462.7 582.5 463.1 582.5 463.5 584.1 463.8 583.3 464.2 583.3 464.6 583.3 465.0 584.1 465.3 583.3 465.7 583.3 466.1 583.3 466.4 583.3 466.8 583.3 467.2 583.3 467.5 584.1 467.9 583.3 468.3 584.1 468.6 583.3 469.0 583.3 469.4 583.3 469.7 584.1 470.1 583.3 470.5 583.3 470.9 584.1 471.2 583.3 471.6 583.3 472.0 583.3 472.3 583.3 472.7 583.3 473.1 583.3 473.4 582.5 473.8 584.1 474.2 583.3 474.5 584.1 474.9 583.3 475.3 584.1 475.7 584.1 476.0 583.3 476.4 583.3 476.8 582.5 477.1 583.3 477.5 583.3 477.9 583.3 478.2 582.5 478.6 582.5 479.0 583.3 479.3 583.3 479.7 583.3 480.1 583.3 480.5 583.3 480.8 583.3 481.2 583.3 481.6 583.3 481.9 583.3 482.3 583.3 482.7 582.5 483.0 583.3 483.4 583.3 483.8 582.5 484.1 583.3 484.5 583.3 484.9 583.3 485.3 583.3 485.6 583.3 486.0 583.3 486.4 583.3 486.7 584.1 487.1 583.3 487.5 583.3 487.8 583.3 488.2 583.3 488.6 583.3 488.9 583.3 489.3 583.3 489.7 584.1 490.0 583.3 490.4 582.5 490.8 583.3 491.2 583.3 491.5 584.1 491.9 583.3 492.3 583.2 492.6 583.2 493.0 583.2 493.4 582.4 493.7 583.2 494.1 584.0 494.5 583.2 494.8 583.2 495.2 583.2 495.6 583.2 496.0 583.2 496.3 583.2 496.7 583.2 497.1 582.4 497.4 582.4 497.8 582.4 498.2 582.4 498.5 583.2 498.9 583.2 499.3 583.2 499.6 583.2 500.0 582.4 500.4 584.0 500.8 582.4 501.1 584.0 501.5 584.0 501.9 583.2 502.2 583.2 502.6 583.1 503.0 582.3 503.3 582.3 503.7 583.1 504.1 583.1 504.4 583.1 504.8 583.1 505.2 583.1 505.6 583.0 505.9 582.2 506.3 583.0 506.7 582.9 507.0 582.1 507.4 582.9 507.8 582.8 508.1 582.7 508.5 582.6 508.9 582.6 509.2 582.4 509.6 582.3 510.0 582.1 510.4 581.9 510.7 581.7 511.1 581.4 511.5 581.1 511.8 581.4 512.2 580.6 512.6 579.7 512.9 579.0 513.3 577.8 513.7 575.7 514.0 574.9 514.4 574.3 514.8 571.7 515.1 567.1 515.5 566.2 515.9 561.6 516.3 559.8 516.6 557.7 517.0 553.7 517.4 552.8 517.7 552.7 518.1 551.2 518.5 549.9 518.8 548.3 519.2 551.0 519.6 550.8 519.9 553.5 520.3 556.9 520.7 557.7 521.1 558.4 521.4 559.2 521.8 559.8 522.2 558.2 522.5 560.9 522.9 560.2 523.3 562.1 523.6 561.6 524.0 561.5 524.4 562.1 524.7 564.3 525.1 562.9 525.5 565.7 525.9 567.0 526.2 568.9 526.6 572.9 527.0 572.2 527.3 573.7 527.7 576.3 528.1 579.0 528.4 578.2 528.8 579.8 529.2 581.2 529.5 581.1 529.9 580.8 530.3 582.0 530.7 582.2 531.0 582.5 531.4 582.6 531.8 581.9 532.1 582.8 532.5 582.9 532.9 582.1 533.2 583.0 533.6 583.0 534.0 583.0 534.3 583.1 534.7 583.1 535.1 582.3 535.4 583.1 535.8 583.1 536.2 583.1 536.6 583.1 536.9 583.2 537.3 582.4 537.7 583.2 538.0 583.2 538.4 583.2 538.8 583.2 539.1 583.2 539.5 583.2 539.9 582.4 540.2 583.2 540.6 584.0 541.0 583.2 541.4 583.2 541.7 584.0 542.1 583.2 542.5 583.2 542.8 583.2 543.2 583.3 543.6 583.3 543.9 583.3 544.3 583.3 544.7 583.3 545.0 583.3 545.4 583.3 545.8 583.3 546.2 583.3 546.5 583.3 546.9 583.3 547.3 583.3 547.6 583.3 548.0 583.3 548.4 583.3 548.7 583.3 549.1 583.3 549.5 583.3 549.8 583.3 550.2 583.3 550.6 583.3 551.0 583.3 551.3 583.3 551.7 583.3 552.1 583.3 552.4 582.5 552.8 583.3 553.2 582.5 553.5 583.3 553.9 583.3 554.3 583.3 554.6 583.3 555.0 583.3 555.4 583.2 555.7 583.2 556.1 583.2 556.5 583.2 556.9 584.0 557.2 583.2 557.6 583.2 558.0 583.2 558.3 583.2 558.7 583.2 559.1 582.4 559.4 583.2 559.8 583.1 560.2 582.3 560.5 583.1 560.9 583.1 561.3 583.0 561.7 583.0 562.0 582.1 562.4 582.8 562.8 582.8 563.1 582.7 563.5 582.5 563.9 582.4 564.2 582.2 564.6 582.0 565.0 582.5 565.3 581.4 565.7 580.9 566.1 580.4 566.5 579.7 566.8 577.3 567.2 577.0 567.6 575.9 567.9 575.3 568.3 572.0 568.7 570.6 569.0 567.4 569.4 563.0 569.8 560.9 570.1 558.4 570.5 553.3 570.9 551.2 571.3 550.7 571.6 551.3 572.0 551.2 572.4 551.8 572.7 551.8 573.1 555.6 573.5 558.7 573.8 560.7 574.2 565.1 574.6 565.4 574.9 567.9 575.3 568.6 575.7 571.5 576.1 573.5 576.4 573.5 576.8 575.8 577.2 576.6 577.5 577.8 577.9 579.1 578.3 580.1 578.6 581.0 579.0 580.7 579.4 581.2 579.7 581.6 580.1 582.0 580.5 582.2 580.8 582.5 581.2 582.6 581.6 583.5 582.0 583.6 582.3 582.9 582.7 583.0 583.1 583.0 583.4 582.2 583.8 583.1 584.2 583.1 584.5 583.1 584.9 583.9 585.3 583.9 585.6 583.1 586.0 583.1 586.4 583.1 586.8 583.9 587.1 583.1 587.5 583.1 587.9 583.1 588.2 582.3 588.6 583.1 589.0 583.9 589.3 582.3 589.7 583.1 590.1 583.1 590.4 583.1 590.8 583.1 591.2 583.1 591.6 582.3 591.9 583.1 592.3 583.1 592.7 583.1 593.0 583.1 593.4 583.1 593.8 583.0 594.1 583.0 594.5 583.0 594.9 583.0 595.2 583.0 595.6 582.9 596.0 582.9 596.4 582.9 596.7 582.0 597.1 583.6 597.5 582.8 597.8 581.9 598.2 581.8 598.6 582.5 598.9 582.4 599.3 582.2 599.7 582.1 600.0 581.8 600.4 581.5 600.8 581.2 601.1 581.5 601.5 580.0 601.9 580.4 602.3 579.4 602.6 578.6 603.0 578.0 603.4 576.5 603.7 574.1 604.1 572.3 604.5 569.2 604.8 566.4 605.2 563.2 605.6 559.1 605.9 551.5 606.3 543.4 606.7 530.6 607.1 516.6 607.4 496.1 607.8 474.2 608.2 456.0 608.5 437.0 608.9 434.9 609.3 433.8 609.6 441.8 610.0 451.8 610.4 474.8 610.7 496.1 611.1 513.8 611.5 532.3 611.9 541.6 612.2 552.1 612.6 561.0 613.0 562.5 613.3 566.8 613.7 569.0 614.1 572.5 614.4 573.7 614.8 575.4 615.2 576.3 615.5 578.9 615.9 578.8 616.3 580.3 616.7 580.1 617.0 580.0 617.4 582.0 617.8 581.6 618.1 581.9 618.5 582.1 618.9 582.3 619.2 582.5 619.6 582.6 620.0 582.7 620.3 582.8 620.7 582.8 621.1 582.1 621.4 582.9 621.8 583.0 622.2 583.0 622.6 583.0 622.9 583.1 623.3 583.1 623.7 583.1 624.0 583.1 624.4 583.2 624.8 583.2 625.1 583.2 625.5 583.2 625.9 583.2 626.2 583.2 626.6 582.5 627.0 583.3 627.4 583.3 627.7 583.3 628.1 583.3 628.5 583.3 628.8 583.3 629.2 584.1 629.6 583.3 629.9 583.4 630.3 583.4 630.7 583.4 631.0 583.4 631.4 583.4 631.8 583.4 632.2 583.4 632.5 583.4 632.9 583.4 633.3 583.4 633.6 583.4 634.0 583.4 634.4 582.6 634.7 583.4 635.1 583.4 635.5 583.4 635.8 584.2 636.2 582.7 636.6 583.5 637.0 582.7 637.3 584.3 637.7 582.7 638.1 583.5 638.4 584.3 638.8 584.3 639.2 583.5 639.5 584.3 639.9 583.5 640.3 583.5 640.6 583.5 641.0 583.5 641.4 583.5 641.7 582.7 642.1 584.3 642.5 582.7 642.9 583.5 643.2 584.3 643.6 583.5 644.0 583.5 644.3 583.5 644.7 583.5 645.1 584.3 645.4 583.5 645.8 583.5 646.2 583.5 646.5 583.5 646.9 582.7 647.3 583.5 647.7 583.5 648.0 583.5 648.4 583.5 648.8 583.5 649.1 584.3 649.5 583.5 649.9 583.5 650.2 583.5 650.6 583.5 651.0 583.5 651.3 583.5 651.7 583.5 652.1 582.7 652.5 582.7 652.8 583.5 653.2 583.5 653.6 583.5 653.9 583.5 654.3 583.5 654.7 584.3 655.0 583.5 655.4 583.5 655.8 584.3 656.1 584.3 656.5 583.5 656.9 583.5 657.3 583.6 657.6 583.6 658.0 583.6 658.4 583.6 658.7 583.6 659.1 583.6 659.5 583.6 659.8 583.6 660.2 583.6 660.6 583.6 660.9 584.4 661.3 582.8 661.7 583.6 662.1 583.6 662.4 583.6 662.8 584.4 663.2 583.6 663.5 583.6 663.9 583.6 664.3 583.6 664.6 583.6 665.0 583.6 665.4 583.6 665.7 583.6 666.1 583.6 666.5 583.6 666.8 583.6 667.2 583.6 667.6 582.8 668.0 583.6 668.3 583.6 668.7 583.6 669.1 583.6 669.4 583.6 669.8 584.4 670.2 583.6 670.5 582.8 670.9 583.6 671.3 584.4 671.6 583.6 672.0 583.6 672.4 583.6 672.8 583.6 673.1 583.6 673.5 582.8 673.9 583.6 674.2 583.6 674.6 582.8 675.0 583.6 675.3 583.6 675.7 583.6 676.1 583.6 676.4 583.6 676.8 583.6 677.2 583.6 677.6 583.6 677.9 583.6 678.3 583.6 678.7 583.6 679.0 583.6 679.4 583.6 679.8 583.6 680.1 584.4 680.5 583.6 680.9 583.6 681.2 583.6 681.6 583.6 682.0 583.6 682.4 583.6 682.7 584.4 683.1 583.6 683.5 583.6 683.8 583.6 684.2 584.4 684.6 583.6 684.9 584.4 685.3 583.6 685.7 582.8 686.0 583.6 686.4 583.6 686.8 584.4 687.1 583.6 687.5 583.6 687.9 584.4 688.3 583.6 688.6 583.6 689.0 583.6 689.4 582.8 689.7 583.6 690.1 584.4 690.5 583.6 690.8 583.6 691.2 583.6 691.6 583.6 691.9 583.6 692.3 583.6 692.7 583.6 693.1 583.6 693.4 583.6 693.8 582.8 694.2 583.6 694.5 583.6 694.9 582.8 695.3 584.4 695.6 582.8 696.0 583.6 696.4 583.6 696.7 583.6 697.1 583.6 697.5 583.6 697.9 583.6 698.2 584.4 698.6 583.6 699.0 582.8 699.3 582.8 699.7 582.8 700.1 583.6 700.4 583.6 700.8 583.6 701.2 583.6 701.5 583.6 701.9 583.6 702.3 583.6 702.7 583.6 703.0 584.4 703.4 582.8 703.8 583.6 704.1 582.8 704.5 583.6 704.9 583.6 705.2 583.6 705.6 583.6 706.0 583.6 706.3 583.6 706.7 583.6 707.1 583.6 707.4 583.6 707.8 583.6 708.2 583.6 708.6 583.6 708.9 583.6 709.3 583.6 709.7 583.6 710.0 583.6 710.4 583.6 710.8 583.6 711.1 583.6 711.5 582.8 711.9 583.6 712.2 584.4 712.6 583.6 713.0 583.6 713.4 583.6 713.7 582.8 714.1 583.6 714.5 583.6 714.8 583.6 715.2 583.6 715.6 583.6 715.9 583.6 716.3 583.6 716.7 583.6 717.0 584.4 717.4 582.8 717.8 583.6 718.2 583.6 718.5 583.6 718.9 583.6 719.3 583.6 719.6 583.6 720.0 583.6 720.4 584.4 720.7 583.6 721.1 584.4 721.5 583.6 721.8 582.8 722.2 583.6 722.6 582.8 723.0 583.6 723.3 583.6 723.7 583.6 724.1 583.6 724.4 583.6 724.8 583.6 725.2 583.6 725.5 583.6 725.9 583.6 726.3 583.6 726.6 583.6 727.0 583.6 727.4 583.6 727.8 583.6 728.1 583.6 728.5 583.6 728.9 582.8 729.2 582.8 729.6 584.4 730.0 583.6 730.3 584.4 730.7 583.6 731.1 583.6 731.4 583.6 731.8 583.6 732.2 583.6 732.5 583.6 732.9 583.6 733.3 583.6 733.7 583.6 734.0 583.6 734.4 583.6 734.8 583.6 735.1 583.6 735.5 583.6 735.9 583.6 736.2 582.8 736.6 582.8 737.0 583.6 737.3 583.6 737.7 583.6 738.1 583.6 738.5 583.6 738.8 583.6 739.2 584.4 739.6 583.6 739.9 583.6 740.3 583.6 740.7 584.4 741.0 584.4 741.4 583.6 741.8 583.6 742.1 582.8 742.5 583.6 742.9 583.6 743.3 583.6 743.6 583.6 744.0 583.6 744.4 583.6 744.7 583.6 745.1 582.8 745.5 584.4 745.8 583.6 746.2 583.6 746.6 583.6 746.9 583.6 747.3 584.4 747.7 583.6 748.1 583.6 748.4 583.6 748.8 582.8 749.2 583.6 749.5 582.8 749.9 583.6 750.3 583.6 750.6 583.6 751.0 583.6 751.4 583.6 751.7 583.6 752.1 582.8 752.5 583.6 752.8 583.6 753.2 583.6 753.6 583.6 754.0 583.6 754.3 584.4 754.7 583.6 755.1 583.6 755.4 582.8 755.8 583.6 756.2 583.6 756.5 583.6 756.9 583.6 757.3 584.4 757.6 583.6 758.0 583.6 758.4 582.8 758.8 584.4 759.1 582.8 759.5 583.6 759.9 583.6 760.2 583.6 760.6 583.6 761.0 584.4 761.3 584.4 761.7 584.4 762.1 583.6 762.4 583.6 762.8 582.8 763.2 583.6 763.6 583.6 763.9 583.6 764.3 583.6 764.7 583.6 765.0 583.6 765.4 583.6 765.8 583.6 766.1 583.6 766.5 582.8 766.9 583.6 767.2 583.6 767.6 583.6 768.0 583.6 768.4 583.6 768.7 583.6 769.1 583.6 769.5 583.6 769.8 584.4 770.2 583.6 770.6 583.6 770.9 583.6 771.3 583.6 771.7 584.4 772.0 583.6 772.4 583.6 772.8 583.6 773.1 583.6 773.5 583.6 773.9 583.6 774.3 583.6 774.6 583.6 775.0 583.6 775.4 583.6 775.7 582.8 776.1 583.6 776.5 584.4 776.8 583.6 777.2 583.6 777.6 583.6 777.9 583.6 778.3 583.6 778.7 583.6 779.1 582.8 779.4 583.6 779.8 583.6 780.2 583.6 780.5 584.4 780.9 583.6 781.3 583.6 781.6 582.8 782.0 583.6 782.4 583.6 782.7 583.6 783.1 583.6 783.5 583.6 783.9 584.4 784.2 583.6 784.6 583.6 785.0 583.6 785.3 582.8 785.7 583.6 786.1 583.6 786.4 583.6 786.8 583.6 787.2 583.6 787.5 583.6 787.9 584.4 788.3 583.6 788.7 583.6 789.0 582.8 789.4 583.6 789.8 583.6 790.1 583.6 790.5 582.8 790.9 584.4 791.2 584.4 791.6 583.6 792.0 583.6 792.3 583.6 792.7 584.4 793.1 583.6 793.4 583.6 793.8 582.8 794.2 584.4 794.6 583.6 794.9 583.6 795.3 583.6 795.7 583.6 796.0 582.8 796.4 583.6 796.8 583.6 797.1 584.4 797.5 582.8 797.9 583.6 798.2 583.6 798.6 582.8 799.0 583.6 799.4 583.6 799.7 582.8 800.1 583.6 800.5 582.8 800.8 583.6 801.2 582.8 801.6 583.6 801.9 584.4 802.3 584.4 802.7 583.6 803.0 583.6 803.4 584.4 803.8 583.6 804.2 583.6 804.5 582.8 804.9 583.6 805.3 584.4 805.6 583.6 806.0 583.6 806.4 583.6 806.7 584.4 807.1 583.6 807.5 582.8 807.8 582.8 808.2 583.6 808.6 583.6 809.0 583.6 809.3 583.6 809.7 582.8 810.1 583.6 810.4 583.6 810.8 583.6 811.2 582.8 811.5 583.6 811.9 583.6 812.3 582.8 812.6 583.6 813.0 582.8 813.4 583.6 813.8 583.6 814.1 583.6 814.5 583.6 814.9 583.6 815.2 583.6 815.6 583.6 816.0 582.8 816.3 583.6 816.7 584.4 817.1 583.6 817.4 583.6 817.8 583.6 818.2 583.6 818.5 583.5 818.9 583.5 819.3 583.5 819.7 583.5 820.0 583.5 820.4 582.7 820.8 583.5 821.1 583.5 821.5 583.5 821.9 582.7 822.2 583.5 822.6 583.5 823.0 583.5 823.3 583.5 823.7 583.5 824.1 583.5 824.5 583.5 824.8 582.7 825.2 583.5 825.6 583.5 825.9 583.5 826.3 583.5 826.7 583.5 827.0 583.5 827.4 583.5 827.8 583.5 828.1 583.4 828.5 583.4 828.9 582.6 829.3 583.4 829.6 583.4 830.0 583.3 830.4 583.3 830.7 584.0 831.1 583.2 831.5 583.9 831.8 583.8 832.2 582.9 832.6 582.8 832.9 582.7 833.3 583.3 833.7 582.3 834.1 582.1 834.4 582.6 834.8 581.4 835.2 580.2 835.5 580.1 835.9 579.9 836.3 579.9 836.6 578.5 837.0 577.1 837.4 574.7 837.7 574.2 838.1 573.4 838.5 573.1 838.8 569.9 839.2 570.5 839.6 567.1 840.0 567.7 840.3 566.8 840.7 565.3 841.1 566.4 841.4 565.3 841.8 568.3 842.2 569.3 842.5 568.9 842.9 570.9 843.3 572.3 843.6 574.4 844.0 575.0 844.4 575.4 844.8 577.4 845.1 579.9 845.5 578.6 845.9 580.2 846.2 580.5 846.6 581.8 847.0 581.4 847.3 581.8 847.7 582.1 848.1 582.3 848.4 582.5 848.8 582.7 849.2 582.8 849.6 582.1 849.9 583.0 850.3 583.1 850.7 583.2 851.0 583.2 851.4 582.5 851.8 583.3 852.1 583.4 852.5 583.4 852.9 583.4 853.2 583.4 853.6 584.2 854.0 584.3 854.4 584.3 854.7 582.7 855.1 584.3 855.5 583.5 855.8 583.5 856.2 583.5 856.6 583.5 856.9 583.5 857.3 583.5 857.7 584.3 858.0 583.5 858.4 583.5 858.8 583.5 859.1 583.5 859.5 584.3 859.9 583.5 860.3 583.5 860.6 583.5 861.0 583.5 861.4 584.3 861.7 582.7 862.1 583.5 862.5 582.7 862.8 583.5 863.2 583.6 863.6 583.6 863.9 584.4 864.3 583.6 864.7 583.6 865.1 583.6 865.4 583.6 865.8 583.6 866.2 583.6 866.5 583.6 866.9 583.6 867.3 584.4 867.6 583.6 868.0 583.6 868.4 582.8 868.7 583.6 869.1 583.6 869.5 583.6 869.9 583.6 870.2 583.6 870.6 583.6 871.0 582.8 871.3 583.6 871.7 584.4 872.1 583.6 872.4 583.6 872.8 584.4 873.2 583.6 873.5 582.8 873.9 584.4 874.3 583.6 874.7 583.6 875.0 582.8 875.4 582.8 875.8 583.6 876.1 584.4 876.5 583.6 876.9 583.6 877.2 583.6 877.6 583.6 878.0 583.6 878.3 583.6 878.7 584.4 879.1 583.6 879.5 583.6 879.8 583.6 880.2 583.6 880.6 583.6 880.9 582.8 881.3 583.6 881.7 582.8 882.0 584.4 882.4 583.6 882.8 582.8 883.1 583.6 883.5 583.6 883.9 583.6 884.2 583.6 884.6 583.6 885.0 583.6 885.4 583.6 885.7 583.6 886.1 583.6 886.5 583.6 886.8 582.8 887.2 583.6 887.6 583.6 887.9 583.6 888.3 583.6 888.7 583.6 889.0 583.6 889.4 583.6 889.8 583.6 890.2 583.6 890.5 583.6 890.9 583.6 891.3 583.6 891.6 583.6 892.0 584.4 892.4 583.6 892.7 583.6 893.1 583.6 893.5 583.6 893.8 583.6 894.2 583.6 894.6 583.6 895.0 583.6 895.3 583.6 895.7 582.0 896.1 584.4 896.4 583.6 896.8 583.6 897.2 583.6 897.5 583.6 897.9 582.8 898.3 583.6 898.6 583.6 899.0 583.6 899.4 583.6 899.8 583.6 900.1 583.6 900.5 583.6 900.9 583.6 901.2 583.6 901.6 583.6 902.0 583.6 902.3 583.6 902.7 583.6 903.1 582.8 903.4 583.6 903.8 583.6 904.2 583.6 904.5 583.6 904.9 583.6 905.3 583.6 905.7 583.6 906.0 582.8 906.4 583.6 906.8 583.6 907.1 582.8 907.5 583.6 907.9 584.4 908.2 584.4 908.6 583.6 909.0 583.6 909.3 583.6 909.7 584.4 910.1 583.6 910.5 583.6 910.8 583.6 911.2 583.6 911.6 583.6 911.9 583.6 912.3 583.6 912.7 583.6 913.0 582.8 913.4 583.6 913.8 583.6 914.1 583.6 914.5 583.6 914.9 583.6 915.3 583.6 915.6 583.6 916.0 583.6 916.4 583.6 916.7 583.6 917.1 583.6 917.5 583.6 917.8 583.6 918.2 583.6 918.6 583.6 918.9 583.6 919.3 583.6 919.7 583.6 920.1 582.8 920.4 583.6 920.8 583.6 921.2 583.6 921.5 584.4 921.9 584.4 922.3 584.4 922.6 583.6 923.0 583.6 923.4 583.6 923.7 583.6 924.1 582.8 924.5 583.6 924.8 584.4 925.2 583.6 925.6 584.4 926.0 583.6 926.3 583.6 926.7 584.4 927.1 583.6 927.4 583.6 927.8 583.6 928.2 583.6 928.5 583.6 928.9 583.6 929.3 583.6 929.6 583.6 930.0 583.6 930.4 583.6 930.8 583.6 931.1 583.6 931.5 583.6 931.9 583.6 932.2 583.6 932.6 583.6 933.0 583.6 933.3 583.6 933.7 583.6 934.1 583.6 934.4 583.6 934.8 582.8 935.2 583.6 935.6 583.6 935.9 583.6 936.3 584.4 936.7 583.6 937.0 583.6 937.4 582.8 937.8 583.6 938.1 582.8 938.5 583.6 938.9 583.6 939.2 584.4 939.6 584.4 940.0 583.6 940.4 583.6 940.7 584.4 941.1 583.6 941.5 582.8 941.8 583.6 942.2 583.6 942.6 583.6 942.9 583.6 943.3 583.6 943.7 582.8 944.0 583.6 944.4 584.4 944.8 583.6 945.2 582.8 945.5 583.5 945.9 583.5 946.3 583.5 946.6 583.4 947.0 583.4 947.4 584.2 947.7 582.5 948.1 583.3 948.5 583.2 948.8 583.2 949.2 583.2 949.6 583.1 949.9 582.3 950.3 582.3 950.7 583.0 951.1 583.8 951.4 583.0 951.8 582.9 952.2 582.9 952.5 582.8 952.9 582.8 953.3 583.5 953.6 583.5 954.0 583.4 954.4 582.6 954.7 582.6 955.1 582.5 955.5 582.5 955.9 582.4 956.2 582.4 956.6 582.3 957.0 582.3 957.3 582.2 957.7 582.2 958.1 582.1 958.4 582.1 958.8 581.2 959.2 582.0 959.5 582.0 959.9 581.9 960.3 581.9 960.7 581.9 961.0 581.9 961.4 581.9 961.8 581.9 962.1 581.9 962.5 581.9 962.9 581.9 963.2 581.1 963.6 581.9 964.0 581.1 964.3 581.9 964.7 581.1 965.1 581.9 965.5 582.7 965.8 582.7 966.2 581.9 966.6 582.7 966.9 581.9 967.3 581.9 967.7 581.9 968.0 581.9 968.4 581.9 968.8 581.9 969.1 581.9 969.5 582.0 969.9 582.0 970.2 582.0 970.6 582.0 971.0 582.0 971.4 582.0 971.7 582.0 972.1 582.0 972.5 582.0 972.8 582.0 973.2 582.0 973.6 582.0 973.9 582.0 974.3 582.8 974.7 582.0 975.0 582.0 975.4 582.0 975.8 582.0 976.2 582.0 976.5 582.0 976.9 582.8 977.3 582.0 977.6 582.0 978.0 582.0" stroke="#ff0000" stroke-width="1.6" fill="none" marker-mid="url(#mr)"/>
</g>
<rect x="573.92" y="34.33" width="11.85" height="10.85" fill="#fff" stroke="#000" stroke-width="1.25"/><rect x="607.12" y="20.73" width="11.95" height="10.95" fill="#fff" stroke="#000" stroke-width="1.25"/><rect x="514.02" y="107.83" width="11.95" height="10.75" fill="#fff" stroke="#000" stroke-width="1.25"/><rect x="511.62" y="508.93" width="11.45" height="10.75" fill="#fff" stroke="#000" stroke-width="1.25"/><rect x="565.42" y="512.73" width="10.55" height="10.95" fill="#fff" stroke="#000" stroke-width="1.25"/><rect x="604.73" y="407.82" width="10.35" height="10.25" fill="none" stroke="#000" stroke-width="1.25"/>
<path d="M240.9 99.0L247.4 90.0L253.9 99.0L247.4 108.0Z" fill="#000"/><path d="M630.1 129.0L636.4 120.2L642.6 129.0L636.4 137.8Z" fill="#000"/><path d="M239.8 222.5L246.2 213.5L252.5 222.5L246.2 231.5Z" fill="#000"/><path d="M632.4 252.8L638.9 243.4L645.4 252.8L638.9 262.2Z" fill="#000"/><path d="M241.1 363.5L247.4 354.5L253.8 363.5L247.4 372.5Z" fill="#000"/><path d="M632.2 380.0L638.7 371.0L645.2 380.0L638.7 389.0Z" fill="#000"/>
<rect x="237.2" y="679" width="5.2" height="14" fill="#000"/><rect x="421.8" y="679" width="5.2" height="14" fill="#000"/><rect x="606.3" y="679" width="5.2" height="14" fill="#000"/><rect x="790.9" y="679" width="5.2" height="14" fill="#000"/><rect x="144.9" y="685.5" width="5.2" height="8" fill="#000"/><rect x="329.5" y="685.5" width="5.2" height="8" fill="#000"/><rect x="514.0" y="685.5" width="5.2" height="8" fill="#000"/><rect x="698.6" y="685.5" width="5.2" height="8" fill="#000"/><rect x="883.1" y="685.5" width="5.2" height="8" fill="#000"/>
<g font-size="34"><text x="55.8" y="732.8" text-anchor="middle">10</text><text x="240.3" y="732.8" text-anchor="middle">20</text><text x="424.9" y="732.8" text-anchor="middle">30</text><text x="609.4" y="732.8" text-anchor="middle">40</text><text x="794.0" y="732.8" text-anchor="middle">50</text><text x="978.5" y="732.8" text-anchor="middle">60</text></g>
<text x="398.5" y="796.4" font-size="32.6">2 Theta <tspan font-size="41" font-weight="normal" dy="0.6">(</tspan><tspan dy="-0.6">Degree</tspan><tspan font-size="41" font-weight="normal" dy="0.6">)</tspan></text>
<text transform="translate(30,372) rotate(-90)" text-anchor="middle" font-size="33.6">Intensity (a.u.)</text>
<rect x="83.6" y="31.6" width="20" height="19.6" fill="none" stroke="#000" stroke-width="2.2"/>
<text x="115" y="51.8" font-size="33.5">Ti</text>
<path d="M82.7 80.0L92.0 67.5L101.3 80.0L92.0 92.5Z" fill="#000"/>
<text x="113.5" y="92" font-size="34.5">V<tspan font-size="18.5" dx="-1.5" dy="12">2</tspan><tspan dx="0.3" dy="-12">O</tspan><tspan font-size="18.5" dx="0.3" dy="12">5</tspan></text>
<text x="216" y="83.3" font-size="33" letter-spacing="-0.3">(001)</text>
<text x="617" y="114.4" font-size="33" letter-spacing="-0.3">(002)</text>
<text x="706" y="120.7" font-size="33" letter-spacing="-0.3">(d) 450°C</text>
<text x="705" y="252" font-size="33" letter-spacing="-0.3">(c) 300°C</text>
<text x="703" y="373.9" font-size="33" letter-spacing="-0.3">(b) 150°C</text>
<text x="703.6" y="514.8" font-size="33" letter-spacing="-0.2">(a) Ti substrate</text>
</svg>
</body></html>
